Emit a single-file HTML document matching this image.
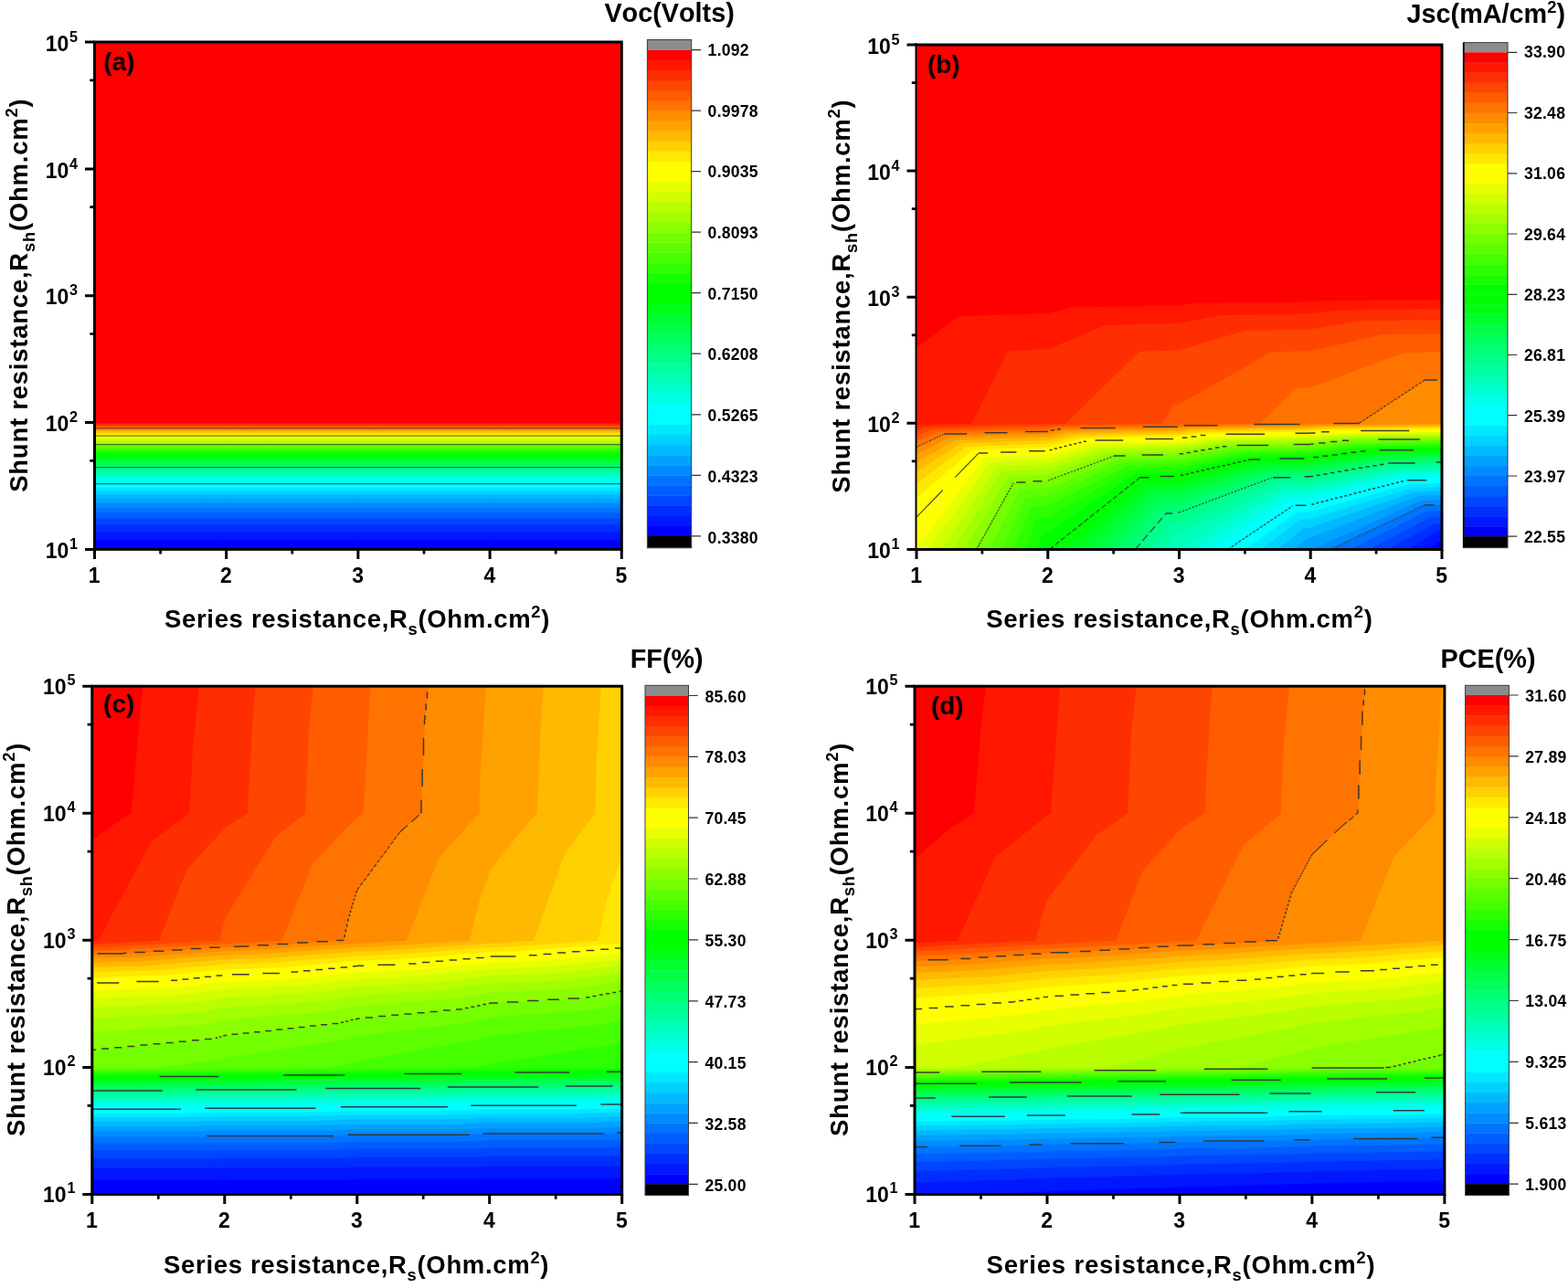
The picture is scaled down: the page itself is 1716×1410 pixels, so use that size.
<!DOCTYPE html>
<html lang="en">
<head>
<meta charset="utf-8">
<title>Effect of series and shunt resistance on Voc, Jsc, FF and PCE</title>
<style>
html,body{margin:0;padding:0;background:#fff;width:1716px;height:1410px;}
body{overflow:hidden;}
svg{display:block;filter:blur(0.45px);}
text{font-kerning:none;}
</style>
</head>
<body>
<svg width="1716" height="1410" viewBox="0 0 1716 1410" font-family="'Liberation Sans',sans-serif" font-weight="bold" fill="#000">
<rect width="1716" height="1410" fill="#fff"/>
<g id="panel-a">
<g stroke-width="0.7" stroke-linejoin="round">
<path fill="#0000ff" stroke="#0000ff" d="M103.5 601.4L247.7 601.4L103.5 462.5ZM247.7 601.4L247.7 462.5L103.5 462.5ZM247.7 601.4L391.9 601.4L247.7 462.5ZM391.9 601.4L391.9 462.5L247.7 462.5ZM391.9 601.4L536.1 601.4L391.9 462.5ZM536.1 601.4L536.1 462.5L391.9 462.5ZM536.1 601.4L680.3 601.4L536.1 462.5ZM680.3 601.4L680.3 462.5L536.1 462.5Z"/>
<path fill="#0017ff" stroke="#0017ff" d="M244.6 590.9L103.5 462.5L103.5 590.9ZM247.7 590.9L247.7 462.5L103.5 462.5L244.6 590.9ZM388.8 590.9L247.7 462.5L247.7 590.9ZM391.9 590.9L391.9 462.5L247.7 462.5L388.8 590.9ZM533 590.9L391.9 462.5L391.9 590.9ZM536.1 590.9L536.1 462.5L391.9 462.5L533 590.9ZM677.2 590.9L536.1 462.5L536.1 590.9ZM680.3 590.9L680.3 462.5L536.1 462.5L677.2 590.9Z"/>
<path fill="#002eff" stroke="#002eff" d="M241.6 581.9L103.5 462.5L103.5 581.9ZM247.7 581.9L247.7 462.5L103.5 462.5L241.6 581.9ZM385.8 581.9L247.7 462.5L247.7 581.9ZM391.9 581.9L391.9 462.5L247.7 462.5L385.8 581.9ZM530 581.9L391.9 462.5L391.9 581.9ZM536.1 581.9L536.1 462.5L391.9 462.5L530 581.9ZM674.2 581.9L536.1 462.5L536.1 581.9ZM680.3 581.9L680.3 462.5L536.1 462.5L674.2 581.9Z"/>
<path fill="#0046ff" stroke="#0046ff" d="M238.5 574.1L103.5 462.5L103.5 574.1ZM247.7 574.1L247.7 462.5L103.5 462.5L238.5 574.1ZM382.7 574.1L247.7 462.5L247.7 574.1ZM391.9 574.1L391.9 462.5L247.7 462.5L382.7 574.1ZM526.9 574.1L391.9 462.5L391.9 574.1ZM536.1 574.1L536.1 462.5L391.9 462.5L526.9 574.1ZM671.1 574.1L536.1 462.5L536.1 574.1ZM680.3 574.1L680.3 462.5L536.1 462.5L671.1 574.1Z"/>
<path fill="#005dff" stroke="#005dff" d="M235.5 567.2L103.5 462.5L103.5 567.2ZM247.7 567.2L247.7 462.5L103.5 462.5L235.5 567.2ZM379.7 567.2L247.7 462.5L247.7 567.2ZM391.9 567.2L391.9 462.5L247.7 462.5L379.7 567.2ZM523.9 567.2L391.9 462.5L391.9 567.2ZM536.1 567.2L536.1 462.5L391.9 462.5L523.9 567.2ZM668.1 567.2L536.1 462.5L536.1 567.2ZM680.3 567.2L680.3 462.5L536.1 462.5L668.1 567.2Z"/>
<path fill="#0074ff" stroke="#0074ff" d="M232.4 561L103.5 462.5L103.5 561ZM247.7 561L247.7 462.5L103.5 462.5L232.4 561ZM376.6 561L247.7 462.5L247.7 561ZM391.9 561L391.9 462.5L247.7 462.5L376.6 561ZM520.8 561L391.9 462.5L391.9 561ZM536.1 561L536.1 462.5L391.9 462.5L520.8 561ZM665 561L536.1 462.5L536.1 561ZM680.3 561L680.3 462.5L536.1 462.5L665 561Z"/>
<path fill="#008bff" stroke="#008bff" d="M229.4 555.4L103.5 462.5L103.5 555.4ZM247.7 555.4L247.7 462.5L103.5 462.5L229.4 555.4ZM373.6 555.4L247.7 462.5L247.7 555.4ZM391.9 555.4L391.9 462.5L247.7 462.5L373.6 555.4ZM517.8 555.4L391.9 462.5L391.9 555.4ZM536.1 555.4L536.1 462.5L391.9 462.5L517.8 555.4ZM662 555.4L536.1 462.5L536.1 555.4ZM680.3 555.4L680.3 462.5L536.1 462.5L662 555.4Z"/>
<path fill="#00a2ff" stroke="#00a2ff" d="M226.3 550.3L103.5 462.5L103.5 550.3ZM247.7 550.3L247.7 462.5L103.5 462.5L226.3 550.3ZM370.5 550.3L247.7 462.5L247.7 550.3ZM391.9 550.3L391.9 462.5L247.7 462.5L370.5 550.3ZM514.7 550.3L391.9 462.5L391.9 550.3ZM536.1 550.3L536.1 462.5L391.9 462.5L514.7 550.3ZM658.9 550.3L536.1 462.5L536.1 550.3ZM680.3 550.3L680.3 462.5L536.1 462.5L658.9 550.3Z"/>
<path fill="#00b9ff" stroke="#00b9ff" d="M223.3 545.6L103.5 462.5L103.5 545.6ZM247.7 545.6L247.7 462.5L103.5 462.5L223.3 545.6ZM367.5 545.6L247.7 462.5L247.7 545.6ZM391.9 545.6L391.9 462.5L247.7 462.5L367.5 545.6ZM511.7 545.6L391.9 462.5L391.9 545.6ZM536.1 545.6L536.1 462.5L391.9 462.5L511.7 545.6ZM655.9 545.6L536.1 462.5L536.1 545.6ZM680.3 545.6L680.3 462.5L536.1 462.5L655.9 545.6Z"/>
<path fill="#00d1ff" stroke="#00d1ff" d="M220.2 541.2L103.5 462.5L103.5 541.2ZM247.7 541.2L247.7 462.5L103.5 462.5L220.2 541.2ZM364.4 541.2L247.7 462.5L247.7 541.2ZM391.9 541.2L391.9 462.5L247.7 462.5L364.4 541.2ZM508.6 541.2L391.9 462.5L391.9 541.2ZM536.1 541.2L536.1 462.5L391.9 462.5L508.6 541.2ZM652.8 541.2L536.1 462.5L536.1 541.2ZM680.3 541.2L680.3 462.5L536.1 462.5L652.8 541.2Z"/>
<path fill="#00e8ff" stroke="#00e8ff" d="M217.2 537.1L103.5 462.5L103.5 537.1ZM247.7 537.1L247.7 462.5L103.5 462.5L217.2 537.1ZM361.4 537.1L247.7 462.5L247.7 537.1ZM391.9 537.1L391.9 462.5L247.7 462.5L361.4 537.1ZM505.6 537.1L391.9 462.5L391.9 537.1ZM536.1 537.1L536.1 462.5L391.9 462.5L505.6 537.1ZM649.8 537.1L536.1 462.5L536.1 537.1ZM680.3 537.1L680.3 462.5L536.1 462.5L649.8 537.1Z"/>
<path fill="#00ffff" stroke="#00ffff" d="M214.1 533.3L103.5 462.5L103.5 533.3ZM247.7 533.3L247.7 462.5L103.5 462.5L214.1 533.3ZM358.3 533.3L247.7 462.5L247.7 533.3ZM391.9 533.3L391.9 462.5L247.7 462.5L358.3 533.3ZM502.5 533.3L391.9 462.5L391.9 533.3ZM536.1 533.3L536.1 462.5L391.9 462.5L502.5 533.3ZM646.7 533.3L536.1 462.5L536.1 533.3ZM680.3 533.3L680.3 462.5L536.1 462.5L646.7 533.3Z"/>
<path fill="#00ffff" stroke="#00ffff" d="M211.1 529.7L103.5 462.5L103.5 529.7ZM247.7 529.7L247.7 462.5L103.5 462.5L211.1 529.7ZM355.3 529.7L247.7 462.5L247.7 529.7ZM391.9 529.7L391.9 462.5L247.7 462.5L355.3 529.7ZM499.5 529.7L391.9 462.5L391.9 529.7ZM536.1 529.7L536.1 462.5L391.9 462.5L499.5 529.7ZM643.7 529.7L536.1 462.5L536.1 529.7ZM680.3 529.7L680.3 462.5L536.1 462.5L643.7 529.7Z"/>
<path fill="#00ffe8" stroke="#00ffe8" d="M208 526.3L103.5 462.5L103.5 526.3ZM247.7 526.3L247.7 462.5L103.5 462.5L208 526.3ZM352.2 526.3L247.7 462.5L247.7 526.3ZM391.9 526.3L391.9 462.5L247.7 462.5L352.2 526.3ZM496.4 526.3L391.9 462.5L391.9 526.3ZM536.1 526.3L536.1 462.5L391.9 462.5L496.4 526.3ZM640.6 526.3L536.1 462.5L536.1 526.3ZM680.3 526.3L680.3 462.5L536.1 462.5L640.6 526.3Z"/>
<path fill="#00ffd1" stroke="#00ffd1" d="M205 523L103.5 462.5L103.5 523ZM247.7 523L247.7 462.5L103.5 462.5L205 523ZM349.2 523L247.7 462.5L247.7 523ZM391.9 523L391.9 462.5L247.7 462.5L349.2 523ZM493.4 523L391.9 462.5L391.9 523ZM536.1 523L536.1 462.5L391.9 462.5L493.4 523ZM637.6 523L536.1 462.5L536.1 523ZM680.3 523L680.3 462.5L536.1 462.5L637.6 523Z"/>
<path fill="#00ffb9" stroke="#00ffb9" d="M201.9 520L103.5 462.5L103.5 520ZM247.7 520L247.7 462.5L103.5 462.5L201.9 520ZM346.1 520L247.7 462.5L247.7 520ZM391.9 520L391.9 462.5L247.7 462.5L346.1 520ZM490.3 520L391.9 462.5L391.9 520ZM536.1 520L536.1 462.5L391.9 462.5L490.3 520ZM634.5 520L536.1 462.5L536.1 520ZM680.3 520L680.3 462.5L536.1 462.5L634.5 520Z"/>
<path fill="#00ffa2" stroke="#00ffa2" d="M198.9 517.1L103.5 462.5L103.5 517.1ZM247.7 517.1L247.7 462.5L103.5 462.5L198.9 517.1ZM343.1 517.1L247.7 462.5L247.7 517.1ZM391.9 517.1L391.9 462.5L247.7 462.5L343.1 517.1ZM487.3 517.1L391.9 462.5L391.9 517.1ZM536.1 517.1L536.1 462.5L391.9 462.5L487.3 517.1ZM631.5 517.1L536.1 462.5L536.1 517.1ZM680.3 517.1L680.3 462.5L536.1 462.5L631.5 517.1Z"/>
<path fill="#00ff8b" stroke="#00ff8b" d="M195.8 514.3L103.5 462.5L103.5 514.3ZM247.7 514.3L247.7 462.5L103.5 462.5L195.8 514.3ZM340 514.3L247.7 462.5L247.7 514.3ZM391.9 514.3L391.9 462.5L247.7 462.5L340 514.3ZM484.2 514.3L391.9 462.5L391.9 514.3ZM536.1 514.3L536.1 462.5L391.9 462.5L484.2 514.3ZM628.4 514.3L536.1 462.5L536.1 514.3ZM680.3 514.3L680.3 462.5L536.1 462.5L628.4 514.3Z"/>
<path fill="#00ff74" stroke="#00ff74" d="M192.8 511.7L103.5 462.5L103.5 511.7ZM247.7 511.7L247.7 462.5L103.5 462.5L192.8 511.7ZM337 511.7L247.7 462.5L247.7 511.7ZM391.9 511.7L391.9 462.5L247.7 462.5L337 511.7ZM481.2 511.7L391.9 462.5L391.9 511.7ZM536.1 511.7L536.1 462.5L391.9 462.5L481.2 511.7ZM625.4 511.7L536.1 462.5L536.1 511.7ZM680.3 511.7L680.3 462.5L536.1 462.5L625.4 511.7Z"/>
<path fill="#00ff5d" stroke="#00ff5d" d="M189.7 509.1L103.5 462.5L103.5 509.1ZM247.7 509.1L247.7 462.5L103.5 462.5L189.7 509.1ZM333.9 509.1L247.7 462.5L247.7 509.1ZM391.9 509.1L391.9 462.5L247.7 462.5L333.9 509.1ZM478.1 509.1L391.9 462.5L391.9 509.1ZM536.1 509.1L536.1 462.5L391.9 462.5L478.1 509.1ZM622.3 509.1L536.1 462.5L536.1 509.1ZM680.3 509.1L680.3 462.5L536.1 462.5L622.3 509.1Z"/>
<path fill="#00ff46" stroke="#00ff46" d="M186.6 506.7L103.5 462.5L103.5 506.7ZM247.7 506.7L247.7 462.5L103.5 462.5L186.6 506.7ZM330.8 506.7L247.7 462.5L247.7 506.7ZM391.9 506.7L391.9 462.5L247.7 462.5L330.8 506.7ZM475 506.7L391.9 462.5L391.9 506.7ZM536.1 506.7L536.1 462.5L391.9 462.5L475 506.7ZM619.2 506.7L536.1 462.5L536.1 506.7ZM680.3 506.7L680.3 462.5L536.1 462.5L619.2 506.7Z"/>
<path fill="#00ff2e" stroke="#00ff2e" d="M183.6 504.3L103.5 462.5L103.5 504.3ZM247.7 504.3L247.7 462.5L103.5 462.5L183.6 504.3ZM327.8 504.3L247.7 462.5L247.7 504.3ZM391.9 504.3L391.9 462.5L247.7 462.5L327.8 504.3ZM472 504.3L391.9 462.5L391.9 504.3ZM536.1 504.3L536.1 462.5L391.9 462.5L472 504.3ZM616.2 504.3L536.1 462.5L536.1 504.3ZM680.3 504.3L680.3 462.5L536.1 462.5L616.2 504.3Z"/>
<path fill="#00ff17" stroke="#00ff17" d="M180.5 502.1L103.5 462.5L103.5 502.1ZM247.7 502.1L247.7 462.5L103.5 462.5L180.5 502.1ZM324.7 502.1L247.7 462.5L247.7 502.1ZM391.9 502.1L391.9 462.5L247.7 462.5L324.7 502.1ZM468.9 502.1L391.9 462.5L391.9 502.1ZM536.1 502.1L536.1 462.5L391.9 462.5L468.9 502.1ZM613.1 502.1L536.1 462.5L536.1 502.1ZM680.3 502.1L680.3 462.5L536.1 462.5L613.1 502.1Z"/>
<path fill="#00ff00" stroke="#00ff00" d="M177.5 499.9L103.5 462.5L103.5 499.9ZM247.7 499.9L247.7 462.5L103.5 462.5L177.5 499.9ZM321.7 499.9L247.7 462.5L247.7 499.9ZM391.9 499.9L391.9 462.5L247.7 462.5L321.7 499.9ZM465.9 499.9L391.9 462.5L391.9 499.9ZM536.1 499.9L536.1 462.5L391.9 462.5L465.9 499.9ZM610.1 499.9L536.1 462.5L536.1 499.9ZM680.3 499.9L680.3 462.5L536.1 462.5L610.1 499.9Z"/>
<path fill="#00ff00" stroke="#00ff00" d="M174.4 497.8L103.5 462.5L103.5 497.8ZM247.7 497.8L247.7 462.5L103.5 462.5L174.4 497.8ZM318.6 497.8L247.7 462.5L247.7 497.8ZM391.9 497.8L391.9 462.5L247.7 462.5L318.6 497.8ZM462.8 497.8L391.9 462.5L391.9 497.8ZM536.1 497.8L536.1 462.5L391.9 462.5L462.8 497.8ZM607 497.8L536.1 462.5L536.1 497.8ZM680.3 497.8L680.3 462.5L536.1 462.5L607 497.8Z"/>
<path fill="#17ff00" stroke="#17ff00" d="M171.4 495.8L103.5 462.5L103.5 495.8ZM247.7 495.8L247.7 462.5L103.5 462.5L171.4 495.8ZM315.6 495.8L247.7 462.5L247.7 495.8ZM391.9 495.8L391.9 462.5L247.7 462.5L315.6 495.8ZM459.8 495.8L391.9 462.5L391.9 495.8ZM536.1 495.8L536.1 462.5L391.9 462.5L459.8 495.8ZM604 495.8L536.1 462.5L536.1 495.8ZM680.3 495.8L680.3 462.5L536.1 462.5L604 495.8Z"/>
<path fill="#2eff00" stroke="#2eff00" d="M168.3 493.8L103.5 462.5L103.5 493.8ZM247.7 493.8L247.7 462.5L103.5 462.5L168.3 493.8ZM312.5 493.8L247.7 462.5L247.7 493.8ZM391.9 493.8L391.9 462.5L247.7 462.5L312.5 493.8ZM456.7 493.8L391.9 462.5L391.9 493.8ZM536.1 493.8L536.1 462.5L391.9 462.5L456.7 493.8ZM600.9 493.8L536.1 462.5L536.1 493.8ZM680.3 493.8L680.3 462.5L536.1 462.5L600.9 493.8Z"/>
<path fill="#46ff00" stroke="#46ff00" d="M165.3 491.9L103.5 462.5L103.5 491.9ZM247.7 491.9L247.7 462.5L103.5 462.5L165.3 491.9ZM309.5 491.9L247.7 462.5L247.7 491.9ZM391.9 491.9L391.9 462.5L247.7 462.5L309.5 491.9ZM453.7 491.9L391.9 462.5L391.9 491.9ZM536.1 491.9L536.1 462.5L391.9 462.5L453.7 491.9ZM597.9 491.9L536.1 462.5L536.1 491.9ZM680.3 491.9L680.3 462.5L536.1 462.5L597.9 491.9Z"/>
<path fill="#5dff00" stroke="#5dff00" d="M162.2 490.1L103.5 462.5L103.5 490.1ZM247.7 490.1L247.7 462.5L103.5 462.5L162.2 490.1ZM306.4 490.1L247.7 462.5L247.7 490.1ZM391.9 490.1L391.9 462.5L247.7 462.5L306.4 490.1ZM450.6 490.1L391.9 462.5L391.9 490.1ZM536.1 490.1L536.1 462.5L391.9 462.5L450.6 490.1ZM594.8 490.1L536.1 462.5L536.1 490.1ZM680.3 490.1L680.3 462.5L536.1 462.5L594.8 490.1Z"/>
<path fill="#74ff00" stroke="#74ff00" d="M159.2 488.3L103.5 462.5L103.5 488.3ZM247.7 488.3L247.7 462.5L103.5 462.5L159.2 488.3ZM303.4 488.3L247.7 462.5L247.7 488.3ZM391.9 488.3L391.9 462.5L247.7 462.5L303.4 488.3ZM447.6 488.3L391.9 462.5L391.9 488.3ZM536.1 488.3L536.1 462.5L391.9 462.5L447.6 488.3ZM591.8 488.3L536.1 462.5L536.1 488.3ZM680.3 488.3L680.3 462.5L536.1 462.5L591.8 488.3Z"/>
<path fill="#8bff00" stroke="#8bff00" d="M156.1 486.6L103.5 462.5L103.5 486.6ZM247.7 486.6L247.7 462.5L103.5 462.5L156.1 486.6ZM300.3 486.6L247.7 462.5L247.7 486.6ZM391.9 486.6L391.9 462.5L247.7 462.5L300.3 486.6ZM444.5 486.6L391.9 462.5L391.9 486.6ZM536.1 486.6L536.1 462.5L391.9 462.5L444.5 486.6ZM588.7 486.6L536.1 462.5L536.1 486.6ZM680.3 486.6L680.3 462.5L536.1 462.5L588.7 486.6Z"/>
<path fill="#a2ff00" stroke="#a2ff00" d="M153.1 484.9L103.5 462.5L103.5 484.9ZM247.7 484.9L247.7 462.5L103.5 462.5L153.1 484.9ZM297.3 484.9L247.7 462.5L247.7 484.9ZM391.9 484.9L391.9 462.5L247.7 462.5L297.3 484.9ZM441.5 484.9L391.9 462.5L391.9 484.9ZM536.1 484.9L536.1 462.5L391.9 462.5L441.5 484.9ZM585.7 484.9L536.1 462.5L536.1 484.9ZM680.3 484.9L680.3 462.5L536.1 462.5L585.7 484.9Z"/>
<path fill="#b9ff00" stroke="#b9ff00" d="M150 483.2L103.5 462.5L103.5 483.2ZM247.7 483.2L247.7 462.5L103.5 462.5L150 483.2ZM294.2 483.2L247.7 462.5L247.7 483.2ZM391.9 483.2L391.9 462.5L247.7 462.5L294.2 483.2ZM438.4 483.2L391.9 462.5L391.9 483.2ZM536.1 483.2L536.1 462.5L391.9 462.5L438.4 483.2ZM582.6 483.2L536.1 462.5L536.1 483.2ZM680.3 483.2L680.3 462.5L536.1 462.5L582.6 483.2Z"/>
<path fill="#d1ff00" stroke="#d1ff00" d="M147 481.6L103.5 462.5L103.5 481.6ZM247.7 481.6L247.7 462.5L103.5 462.5L147 481.6ZM291.2 481.6L247.7 462.5L247.7 481.6ZM391.9 481.6L391.9 462.5L247.7 462.5L291.2 481.6ZM435.4 481.6L391.9 462.5L391.9 481.6ZM536.1 481.6L536.1 462.5L391.9 462.5L435.4 481.6ZM579.6 481.6L536.1 462.5L536.1 481.6ZM680.3 481.6L680.3 462.5L536.1 462.5L579.6 481.6Z"/>
<path fill="#e8ff00" stroke="#e8ff00" d="M143.9 480.1L103.5 462.5L103.5 480.1ZM247.7 480.1L247.7 462.5L103.5 462.5L143.9 480.1ZM288.1 480.1L247.7 462.5L247.7 480.1ZM391.9 480.1L391.9 462.5L247.7 462.5L288.1 480.1ZM432.3 480.1L391.9 462.5L391.9 480.1ZM536.1 480.1L536.1 462.5L391.9 462.5L432.3 480.1ZM576.5 480.1L536.1 462.5L536.1 480.1ZM680.3 480.1L680.3 462.5L536.1 462.5L576.5 480.1Z"/>
<path fill="#ffff00" stroke="#ffff00" d="M140.9 478.6L103.5 462.5L103.5 478.6ZM247.7 478.6L247.7 462.5L103.5 462.5L140.9 478.6ZM285.1 478.6L247.7 462.5L247.7 478.6ZM391.9 478.6L391.9 462.5L247.7 462.5L285.1 478.6ZM429.3 478.6L391.9 462.5L391.9 478.6ZM536.1 478.6L536.1 462.5L391.9 462.5L429.3 478.6ZM573.5 478.6L536.1 462.5L536.1 478.6ZM680.3 478.6L680.3 462.5L536.1 462.5L573.5 478.6Z"/>
<path fill="#ffff00" stroke="#ffff00" d="M137.8 477.1L103.5 462.5L103.5 477.1ZM247.7 477.1L247.7 462.5L103.5 462.5L137.8 477.1ZM282 477.1L247.7 462.5L247.7 477.1ZM391.9 477.1L391.9 462.5L247.7 462.5L282 477.1ZM426.2 477.1L391.9 462.5L391.9 477.1ZM536.1 477.1L536.1 462.5L391.9 462.5L426.2 477.1ZM570.4 477.1L536.1 462.5L536.1 477.1ZM680.3 477.1L680.3 462.5L536.1 462.5L570.4 477.1Z"/>
<path fill="#ffe800" stroke="#ffe800" d="M134.7 475.6L103.5 462.5L103.5 475.6ZM247.7 475.6L247.7 462.5L103.5 462.5L134.7 475.6ZM278.9 475.6L247.7 462.5L247.7 475.6ZM391.9 475.6L391.9 462.5L247.7 462.5L278.9 475.6ZM423.1 475.6L391.9 462.5L391.9 475.6ZM536.1 475.6L536.1 462.5L391.9 462.5L423.1 475.6ZM567.3 475.6L536.1 462.5L536.1 475.6ZM680.3 475.6L680.3 462.5L536.1 462.5L567.3 475.6Z"/>
<path fill="#ffd100" stroke="#ffd100" d="M131.7 474.2L103.5 462.5L103.5 474.2ZM247.7 474.2L247.7 462.5L103.5 462.5L131.7 474.2ZM275.9 474.2L247.7 462.5L247.7 474.2ZM391.9 474.2L391.9 462.5L247.7 462.5L275.9 474.2ZM420.1 474.2L391.9 462.5L391.9 474.2ZM536.1 474.2L536.1 462.5L391.9 462.5L420.1 474.2ZM564.3 474.2L536.1 462.5L536.1 474.2ZM680.3 474.2L680.3 462.5L536.1 462.5L564.3 474.2Z"/>
<path fill="#ffb900" stroke="#ffb900" d="M128.6 472.8L103.5 462.5L103.5 472.8ZM247.7 472.8L247.7 462.5L103.5 462.5L128.6 472.8ZM272.8 472.8L247.7 462.5L247.7 472.8ZM391.9 472.8L391.9 462.5L247.7 462.5L272.8 472.8ZM417 472.8L391.9 462.5L391.9 472.8ZM536.1 472.8L536.1 462.5L391.9 462.5L417 472.8ZM561.2 472.8L536.1 462.5L536.1 472.8ZM680.3 472.8L680.3 462.5L536.1 462.5L561.2 472.8Z"/>
<path fill="#ffa200" stroke="#ffa200" d="M125.6 471.5L103.5 462.5L103.5 471.5ZM247.7 471.5L247.7 462.5L103.5 462.5L125.6 471.5ZM269.8 471.5L247.7 462.5L247.7 471.5ZM391.9 471.5L391.9 462.5L247.7 462.5L269.8 471.5ZM414 471.5L391.9 462.5L391.9 471.5ZM536.1 471.5L536.1 462.5L391.9 462.5L414 471.5ZM558.2 471.5L536.1 462.5L536.1 471.5ZM680.3 471.5L680.3 462.5L536.1 462.5L558.2 471.5Z"/>
<path fill="#ff8b00" stroke="#ff8b00" d="M122.5 470.2L103.5 462.5L103.5 470.2ZM247.7 470.2L247.7 462.5L103.5 462.5L122.5 470.2ZM266.7 470.2L247.7 462.5L247.7 470.2ZM391.9 470.2L391.9 462.5L247.7 462.5L266.7 470.2ZM410.9 470.2L391.9 462.5L391.9 470.2ZM536.1 470.2L536.1 462.5L391.9 462.5L410.9 470.2ZM555.1 470.2L536.1 462.5L536.1 470.2ZM680.3 470.2L680.3 462.5L536.1 462.5L555.1 470.2Z"/>
<path fill="#ff7400" stroke="#ff7400" d="M119.5 468.9L103.5 462.5L103.5 468.9ZM247.7 468.9L247.7 462.5L103.5 462.5L119.5 468.9ZM263.7 468.9L247.7 462.5L247.7 468.9ZM391.9 468.9L391.9 462.5L247.7 462.5L263.7 468.9ZM407.9 468.9L391.9 462.5L391.9 468.9ZM536.1 468.9L536.1 462.5L391.9 462.5L407.9 468.9ZM552.1 468.9L536.1 462.5L536.1 468.9ZM680.3 468.9L680.3 462.5L536.1 462.5L552.1 468.9Z"/>
<path fill="#ff5d00" stroke="#ff5d00" d="M116.4 467.6L103.5 462.5L103.5 467.6ZM247.7 467.6L247.7 462.5L103.5 462.5L116.4 467.6ZM260.6 467.6L247.7 462.5L247.7 467.6ZM391.9 467.6L391.9 462.5L247.7 462.5L260.6 467.6ZM404.8 467.6L391.9 462.5L391.9 467.6ZM536.1 467.6L536.1 462.5L391.9 462.5L404.8 467.6ZM549 467.6L536.1 462.5L536.1 467.6ZM680.3 467.6L680.3 462.5L536.1 462.5L549 467.6Z"/>
<path fill="#ff4600" stroke="#ff4600" d="M113.4 466.4L103.5 462.5L103.5 466.4ZM247.7 466.4L247.7 462.5L103.5 462.5L113.4 466.4ZM257.6 466.4L247.7 462.5L247.7 466.4ZM391.9 466.4L391.9 462.5L247.7 462.5L257.6 466.4ZM401.8 466.4L391.9 462.5L391.9 466.4ZM536.1 466.4L536.1 462.5L391.9 462.5L401.8 466.4ZM546 466.4L536.1 462.5L536.1 466.4ZM680.3 466.4L680.3 462.5L536.1 462.5L546 466.4Z"/>
<path fill="#ff2e00" stroke="#ff2e00" d="M110.3 465.2L103.5 462.5L103.5 465.2ZM247.7 465.2L247.7 462.5L103.5 462.5L110.3 465.2ZM254.5 465.2L247.7 462.5L247.7 465.2ZM391.9 465.2L391.9 462.5L247.7 462.5L254.5 465.2ZM398.7 465.2L391.9 462.5L391.9 465.2ZM536.1 465.2L536.1 462.5L391.9 462.5L398.7 465.2ZM542.9 465.2L536.1 462.5L536.1 465.2ZM680.3 465.2L680.3 462.5L536.1 462.5L542.9 465.2Z"/>
<path fill="#ff1700" stroke="#ff1700" d="M107.3 464L103.5 462.5L103.5 464ZM247.7 464L247.7 462.5L103.5 462.5L107.3 464ZM251.5 464L247.7 462.5L247.7 464ZM391.9 464L391.9 462.5L247.7 462.5L251.5 464ZM395.7 464L391.9 462.5L391.9 464ZM536.1 464L536.1 462.5L391.9 462.5L395.7 464ZM539.9 464L536.1 462.5L536.1 464ZM680.3 464L680.3 462.5L536.1 462.5L539.9 464Z"/>
<path fill="#ff0000" stroke="#ff0000" d="M104.2 462.8L103.5 462.5L103.5 462.8ZM247.7 462.8L247.7 462.5L103.5 462.5L104.2 462.8ZM248.4 462.8L247.7 462.5L247.7 462.8ZM391.9 462.8L391.9 462.5L247.7 462.5L248.4 462.8ZM392.6 462.8L391.9 462.5L391.9 462.8ZM536.1 462.8L536.1 462.5L391.9 462.5L392.6 462.8ZM536.8 462.8L536.1 462.5L536.1 462.8ZM680.3 462.8L680.3 462.5L536.1 462.5L536.8 462.8ZM103.5 462.5L247.7 462.5L103.5 323.7ZM247.7 462.5L247.7 323.7L103.5 323.7ZM247.7 462.5L391.9 462.5L247.7 323.7ZM391.9 462.5L391.9 323.7L247.7 323.7ZM391.9 462.5L536.1 462.5L391.9 323.7ZM536.1 462.5L536.1 323.7L391.9 323.7ZM536.1 462.5L680.3 462.5L536.1 323.7ZM680.3 462.5L680.3 323.7L536.1 323.7ZM103.5 323.7L247.7 323.7L103.5 184.9ZM247.7 323.7L247.7 184.9L103.5 184.9ZM247.7 323.7L391.9 323.7L247.7 184.9ZM391.9 323.7L391.9 184.9L247.7 184.9ZM391.9 323.7L536.1 323.7L391.9 184.9ZM536.1 323.7L536.1 184.9L391.9 184.9ZM536.1 323.7L680.3 323.7L536.1 184.9ZM680.3 323.7L680.3 184.9L536.1 184.9ZM103.5 184.9L247.7 184.9L103.5 46ZM247.7 184.9L247.7 46L103.5 46ZM247.7 184.9L391.9 184.9L247.7 46ZM391.9 184.9L391.9 46L247.7 46ZM391.9 184.9L536.1 184.9L391.9 46ZM536.1 184.9L536.1 46L391.9 46ZM536.1 184.9L680.3 184.9L536.1 46ZM680.3 184.9L680.3 46L536.1 46Z"/>
</g>
<g fill="none" stroke="#363636" stroke-width="1.5" stroke-opacity="0.97">
<path stroke-width="1.2" stroke-opacity="0.72" d="M103.5 529.7L211.1 529.7L247.7 529.7L355.3 529.7L391.9 529.7L499.5 529.7L536.1 529.7L643.7 529.7L680.3 529.7"/>
<path stroke-width="1.2" stroke-opacity="0.72" d="M103.5 511.7L192.8 511.7L247.7 511.7L337 511.7L391.9 511.7L481.2 511.7L536.1 511.7L625.4 511.7L680.3 511.7"/>
<path stroke-width="1.2" stroke-opacity="0.72" d="M103.5 486.6L156.1 486.6L247.7 486.6L300.3 486.6L391.9 486.6L444.5 486.6L536.1 486.6L588.7 486.6L680.3 486.6"/>
<path stroke-width="1.2" stroke-opacity="0.72" d="M103.5 477.1L137.8 477.1L247.7 477.1L282 477.1L391.9 477.1L426.2 477.1L536.1 477.1L570.4 477.1L680.3 477.1"/>
<path stroke-width="1.2" stroke-opacity="0.72" d="M103.5 468.9L119.5 468.9L247.7 468.9L263.7 468.9L391.9 468.9L407.9 468.9L536.1 468.9L552.1 468.9L680.3 468.9"/>
</g>
<g stroke="#000" stroke-width="3" fill="none" stroke-linecap="butt"><rect x="103.5" y="46" width="576.8" height="555.4"/><path d="M93 601.4H103.5M93 462.5H103.5M93 323.7H103.5M93 184.9H103.5M93 46H103.5M103.5 601.4V611.9M247.7 601.4V611.9M391.9 601.4V611.9M536.1 601.4V611.9M680.3 601.4V611.9"/><path stroke-width="2.7" d="M98.3 504.3H103.5M98.3 365.5H103.5M98.3 226.6H103.5M98.3 87.8H103.5M175.6 601.4V606.6M319.8 601.4V606.6M464 601.4V606.6M608.2 601.4V606.6"/></g>
<g><rect x="708.4" y="43.5" width="48.3" height="11.1" fill="#8c8c8c"/><rect x="708.4" y="575.71" width="48.3" height="11.49" fill="#0000ff"/><rect x="708.4" y="564.62" width="48.3" height="11.49" fill="#0017ff"/><rect x="708.4" y="553.54" width="48.3" height="11.49" fill="#002eff"/><rect x="708.4" y="542.45" width="48.3" height="11.49" fill="#0046ff"/><rect x="708.4" y="531.36" width="48.3" height="11.49" fill="#005dff"/><rect x="708.4" y="520.27" width="48.3" height="11.49" fill="#0074ff"/><rect x="708.4" y="509.19" width="48.3" height="11.49" fill="#008bff"/><rect x="708.4" y="498.10" width="48.3" height="11.49" fill="#00a2ff"/><rect x="708.4" y="487.01" width="48.3" height="11.49" fill="#00b9ff"/><rect x="708.4" y="475.92" width="48.3" height="11.49" fill="#00d1ff"/><rect x="708.4" y="464.84" width="48.3" height="11.49" fill="#00e8ff"/><rect x="708.4" y="453.75" width="48.3" height="11.49" fill="#00ffff"/><rect x="708.4" y="442.66" width="48.3" height="11.49" fill="#00ffff"/><rect x="708.4" y="431.57" width="48.3" height="11.49" fill="#00ffe8"/><rect x="708.4" y="420.49" width="48.3" height="11.49" fill="#00ffd1"/><rect x="708.4" y="409.40" width="48.3" height="11.49" fill="#00ffb9"/><rect x="708.4" y="398.31" width="48.3" height="11.49" fill="#00ffa2"/><rect x="708.4" y="387.22" width="48.3" height="11.49" fill="#00ff8b"/><rect x="708.4" y="376.14" width="48.3" height="11.49" fill="#00ff74"/><rect x="708.4" y="365.05" width="48.3" height="11.49" fill="#00ff5d"/><rect x="708.4" y="353.96" width="48.3" height="11.49" fill="#00ff46"/><rect x="708.4" y="342.88" width="48.3" height="11.49" fill="#00ff2e"/><rect x="708.4" y="331.79" width="48.3" height="11.49" fill="#00ff17"/><rect x="708.4" y="320.70" width="48.3" height="11.49" fill="#00ff00"/><rect x="708.4" y="309.61" width="48.3" height="11.49" fill="#00ff00"/><rect x="708.4" y="298.52" width="48.3" height="11.49" fill="#17ff00"/><rect x="708.4" y="287.44" width="48.3" height="11.49" fill="#2eff00"/><rect x="708.4" y="276.35" width="48.3" height="11.49" fill="#46ff00"/><rect x="708.4" y="265.26" width="48.3" height="11.49" fill="#5dff00"/><rect x="708.4" y="254.18" width="48.3" height="11.49" fill="#74ff00"/><rect x="708.4" y="243.09" width="48.3" height="11.49" fill="#8bff00"/><rect x="708.4" y="232.00" width="48.3" height="11.49" fill="#a2ff00"/><rect x="708.4" y="220.91" width="48.3" height="11.49" fill="#b9ff00"/><rect x="708.4" y="209.82" width="48.3" height="11.49" fill="#d1ff00"/><rect x="708.4" y="198.74" width="48.3" height="11.49" fill="#e8ff00"/><rect x="708.4" y="187.65" width="48.3" height="11.49" fill="#ffff00"/><rect x="708.4" y="176.56" width="48.3" height="11.49" fill="#ffff00"/><rect x="708.4" y="165.48" width="48.3" height="11.49" fill="#ffe800"/><rect x="708.4" y="154.39" width="48.3" height="11.49" fill="#ffd100"/><rect x="708.4" y="143.30" width="48.3" height="11.49" fill="#ffb900"/><rect x="708.4" y="132.21" width="48.3" height="11.49" fill="#ffa200"/><rect x="708.4" y="121.12" width="48.3" height="11.49" fill="#ff8b00"/><rect x="708.4" y="110.04" width="48.3" height="11.49" fill="#ff7400"/><rect x="708.4" y="98.95" width="48.3" height="11.49" fill="#ff5d00"/><rect x="708.4" y="87.86" width="48.3" height="11.49" fill="#ff4600"/><rect x="708.4" y="76.78" width="48.3" height="11.49" fill="#ff2e00"/><rect x="708.4" y="65.69" width="48.3" height="11.49" fill="#ff1700"/><rect x="708.4" y="54.60" width="48.3" height="11.49" fill="#ff0000"/><rect x="708.4" y="586.8" width="48.3" height="13" fill="#000"/><rect x="708.4" y="43.5" width="48.3" height="556.3" fill="none" stroke="#3c3c3c" stroke-width="1"/><path d="M756.7 54.6h10.3M756.7 121.1h10.3M756.7 187.6h10.3M756.7 254.2h10.3M756.7 320.7h10.3M756.7 387.2h10.3M756.7 453.8h10.3M756.7 520.3h10.3M756.7 586.8h10.3" stroke="#333" stroke-width="1.2" fill="none"/><text x="774.6" y="60.8" font-size="17.6" letter-spacing="0.25">1.092</text><text x="774.6" y="127.5" font-size="17.6" letter-spacing="0.25">0.9978</text><text x="774.6" y="194.3" font-size="17.6" letter-spacing="0.25">0.9035</text><text x="774.6" y="261" font-size="17.6" letter-spacing="0.25">0.8093</text><text x="774.6" y="327.7" font-size="17.6" letter-spacing="0.25">0.7150</text><text x="774.6" y="394.4" font-size="17.6" letter-spacing="0.25">0.6208</text><text x="774.6" y="461.1" font-size="17.6" letter-spacing="0.25">0.5265</text><text x="774.6" y="527.9" font-size="17.6" letter-spacing="0.25">0.4323</text><text x="774.6" y="594.6" font-size="17.6" letter-spacing="0.25">0.3380</text></g>
<g><text x="113.3" y="77.2" font-size="28">(a)</text><text x="103.2" y="637.8" font-size="23" text-anchor="middle">1</text><text x="247.4" y="637.8" font-size="23" text-anchor="middle">2</text><text x="391.6" y="637.8" font-size="23" text-anchor="middle">3</text><text x="535.8" y="637.8" font-size="23" text-anchor="middle">4</text><text x="680" y="637.8" font-size="23" text-anchor="middle">5</text><text x="85.1" y="611.1" font-size="23" text-anchor="end">10<tspan dy="-10" dx="0.8" font-size="16.2">1</tspan></text><text x="85.1" y="472.2" font-size="23" text-anchor="end">10<tspan dy="-10" dx="0.8" font-size="16.2">2</tspan></text><text x="85.1" y="333.4" font-size="23" text-anchor="end">10<tspan dy="-10" dx="0.8" font-size="16.2">3</tspan></text><text x="85.1" y="194.6" font-size="23" text-anchor="end">10<tspan dy="-10" dx="0.8" font-size="16.2">4</tspan></text><text x="85.1" y="55.7" font-size="23" text-anchor="end">10<tspan dy="-10" dx="0.8" font-size="16.2">5</tspan></text><text x="391" y="687.1" font-size="27.5" letter-spacing="0.67" text-anchor="middle">Series resistance,R<tspan dy="7.7" font-size="18.4">s</tspan><tspan dy="-7.7">(Ohm.cm</tspan><tspan dy="-11" font-size="18.4">2</tspan><tspan dy="11">)</tspan></text><text transform="translate(29.9 323.2) rotate(-90)" font-size="27.5" letter-spacing="0.76" text-anchor="middle">Shunt resistance,R<tspan dy="7.7" font-size="18.4">sh</tspan><tspan dy="-7.7">(Ohm.cm</tspan><tspan dy="-11" font-size="18.4">2</tspan><tspan dy="11">)</tspan></text><text x="732.6" y="23.5" font-size="28.8" text-anchor="middle">Voc(Volts)</text></g>
</g>
<g id="panel-b">
<g stroke-width="0.7" stroke-linejoin="round">
<path fill="#0000ff" stroke="#0000ff" d="M1434.2 601.4L1578 601.4L1434.2 463.3ZM1578 601.4L1578 463.3L1434.2 463.3Z"/>
<path fill="#0017ff" stroke="#0017ff" d="M1434.2 601.4L1561.4 601.4L1575.3 592.1L1434.2 463.3ZM1578 591.8L1578 463.3L1434.2 463.3L1575.3 592.1Z"/>
<path fill="#002eff" stroke="#002eff" d="M1434.2 601.4L1540.3 601.4L1571.9 582L1434.2 463.3ZM1578 581.5L1578 463.3L1434.2 463.3L1571.9 582Z"/>
<path fill="#0046ff" stroke="#0046ff" d="M1434.2 601.4L1519.3 601.4L1568.5 573.4L1434.2 463.3ZM1578 572.7L1578 463.3L1434.2 463.3L1568.5 573.4Z"/>
<path fill="#005dff" stroke="#005dff" d="M1434.2 601.4L1498.2 601.4L1565.1 565.9L1434.2 463.3ZM1578 565.1L1578 463.3L1434.2 463.3L1565.1 565.9Z"/>
<path fill="#0074ff" stroke="#0074ff" d="M1434.2 601.4L1477.2 601.4L1561.7 559.2L1434.2 463.3ZM1578 558.3L1578 463.3L1434.2 463.3L1561.7 559.2Z"/>
<path fill="#008bff" stroke="#008bff" d="M1434.2 601.4L1456.1 601.4L1558.3 553.2L1434.2 463.3ZM1578 552.2L1578 463.3L1434.2 463.3L1558.3 553.2Z"/>
<path fill="#00a2ff" stroke="#00a2ff" d="M1290.5 601.4L1434.2 601.4L1290.5 463.3ZM1434.2 601.4L1434.2 463.3L1290.5 463.3ZM1434.2 601.4L1435.1 601.4L1554.9 547.8L1434.2 463.3ZM1578 546.6L1578 463.3L1434.2 463.3L1554.9 547.8Z"/>
<path fill="#00b9ff" stroke="#00b9ff" d="M1290.5 601.4L1416.7 601.4L1430.5 588.7L1290.5 463.3ZM1434.2 588.3L1434.2 463.3L1290.5 463.3L1430.5 588.7ZM1551.5 542.8L1434.2 463.3L1434.2 588.3ZM1578 541.6L1578 463.3L1434.2 463.3L1551.5 542.8Z"/>
<path fill="#00d1ff" stroke="#00d1ff" d="M1290.5 601.4L1398.5 601.4L1426.6 577.9L1290.5 463.3ZM1434.2 577.2L1434.2 463.3L1290.5 463.3L1426.6 577.9ZM1548.1 538.1L1434.2 463.3L1434.2 577.2ZM1578 536.9L1578 463.3L1434.2 463.3L1548.1 538.1Z"/>
<path fill="#00e8ff" stroke="#00e8ff" d="M1290.5 601.4L1380.2 601.4L1422.7 568.7L1290.5 463.3ZM1434.2 567.8L1434.2 463.3L1290.5 463.3L1422.7 568.7ZM1544.7 533.9L1434.2 463.3L1434.2 567.8ZM1578 532.6L1578 463.3L1434.2 463.3L1544.7 533.9Z"/>
<path fill="#00ffff" stroke="#00ffff" d="M1290.5 601.4L1362 601.4L1418.8 560.8L1290.5 463.3ZM1434.2 559.7L1434.2 463.3L1290.5 463.3L1418.8 560.8ZM1541.3 529.9L1434.2 463.3L1434.2 559.7ZM1578 528.5L1578 463.3L1434.2 463.3L1541.3 529.9Z"/>
<path fill="#00ffff" stroke="#00ffff" d="M1290.5 601.4L1343.7 601.4L1414.9 553.7L1290.5 463.3ZM1434.2 552.5L1434.2 463.3L1290.5 463.3L1414.9 553.7ZM1537.9 526.1L1434.2 463.3L1434.2 552.5ZM1578 524.7L1578 463.3L1434.2 463.3L1537.9 526.1Z"/>
<path fill="#00ffe8" stroke="#00ffe8" d="M1290.5 601.4L1325.5 601.4L1411 547.4L1290.5 463.3ZM1434.2 546.1L1434.2 463.3L1290.5 463.3L1411 547.4ZM1534.5 522.6L1434.2 463.3L1434.2 546.1ZM1578 521.2L1578 463.3L1434.2 463.3L1534.5 522.6Z"/>
<path fill="#00ffd1" stroke="#00ffd1" d="M1146.8 601.4L1290.5 601.4L1146.8 463.3ZM1290.5 601.4L1290.5 463.3L1146.8 463.3ZM1290.5 601.4L1307.2 601.4L1407 541.8L1290.5 463.3ZM1434.2 540.3L1434.2 463.3L1290.5 463.3L1407 541.8ZM1531.1 519.2L1434.2 463.3L1434.2 540.3ZM1578 517.8L1578 463.3L1434.2 463.3L1531.1 519.2Z"/>
<path fill="#00ffb9" stroke="#00ffb9" d="M1146.8 601.4L1289.2 601.4L1290.1 599.9L1146.8 463.3ZM1290.5 599.8L1290.5 463.3L1146.8 463.3L1290.1 599.9ZM1403.1 536.6L1290.5 463.3L1290.5 599.8ZM1434.2 535.1L1434.2 463.3L1290.5 463.3L1403.1 536.6ZM1527.7 516.1L1434.2 463.3L1434.2 535.1ZM1578 514.6L1578 463.3L1434.2 463.3L1527.7 516.1Z"/>
<path fill="#00ffa2" stroke="#00ffa2" d="M1146.8 601.4L1273.5 601.4L1285.4 584.6L1146.8 463.3ZM1290.5 584L1290.5 463.3L1146.8 463.3L1285.4 584.6ZM1399.2 531.8L1290.5 463.3L1290.5 584ZM1434.2 530.2L1434.2 463.3L1290.5 463.3L1399.2 531.8ZM1524.3 513.1L1434.2 463.3L1434.2 530.2ZM1578 511.6L1578 463.3L1434.2 463.3L1524.3 513.1Z"/>
<path fill="#00ff8b" stroke="#00ff8b" d="M1146.8 601.4L1257.9 601.4L1280.6 572.5L1146.8 463.3ZM1290.5 571.4L1290.5 463.3L1146.8 463.3L1280.6 572.5ZM1395.3 527.4L1290.5 463.3L1290.5 571.4ZM1434.2 525.8L1434.2 463.3L1290.5 463.3L1395.3 527.4ZM1520.9 510.2L1434.2 463.3L1434.2 525.8ZM1578 508.7L1578 463.3L1434.2 463.3L1520.9 510.2Z"/>
<path fill="#00ff74" stroke="#00ff74" d="M1146.8 601.4L1242.3 601.4L1275.9 562.4L1146.8 463.3ZM1290.5 561L1290.5 463.3L1146.8 463.3L1275.9 562.4ZM1391.4 523.2L1290.5 463.3L1290.5 561ZM1434.2 521.6L1434.2 463.3L1290.5 463.3L1391.4 523.2ZM1517.5 507.5L1434.2 463.3L1434.2 521.6ZM1578 506L1578 463.3L1434.2 463.3L1517.5 507.5Z"/>
<path fill="#00ff5d" stroke="#00ff5d" d="M1146.8 601.4L1226.6 601.4L1271.1 553.7L1146.8 463.3ZM1290.5 552.2L1290.5 463.3L1146.8 463.3L1271.1 553.7ZM1387.5 519.4L1290.5 463.3L1290.5 552.2ZM1434.2 517.7L1434.2 463.3L1290.5 463.3L1387.5 519.4ZM1514.1 504.9L1434.2 463.3L1434.2 517.7ZM1578 503.4L1578 463.3L1434.2 463.3L1514.1 504.9Z"/>
<path fill="#00ff46" stroke="#00ff46" d="M1146.8 601.4L1211 601.4L1266.4 546.2L1146.8 463.3ZM1290.5 544.5L1290.5 463.3L1146.8 463.3L1266.4 546.2ZM1383.6 515.7L1290.5 463.3L1290.5 544.5ZM1434.2 514L1434.2 463.3L1290.5 463.3L1383.6 515.7ZM1510.7 502.4L1434.2 463.3L1434.2 514ZM1578 500.8L1578 463.3L1434.2 463.3L1510.7 502.4Z"/>
<path fill="#00ff2e" stroke="#00ff2e" d="M1146.8 601.4L1195.3 601.4L1261.6 539.5L1146.8 463.3ZM1290.5 537.7L1290.5 463.3L1146.8 463.3L1261.6 539.5ZM1379.7 512.3L1290.5 463.3L1290.5 537.7ZM1434.2 510.6L1434.2 463.3L1290.5 463.3L1379.7 512.3ZM1507.3 500L1434.2 463.3L1434.2 510.6ZM1578 498.4L1578 463.3L1434.2 463.3L1507.3 500Z"/>
<path fill="#00ff17" stroke="#00ff17" d="M1146.8 601.4L1179.7 601.4L1256.9 533.4L1146.8 463.3ZM1290.5 531.5L1290.5 463.3L1146.8 463.3L1256.9 533.4ZM1375.8 509.1L1290.5 463.3L1290.5 531.5ZM1434.2 507.3L1434.2 463.3L1290.5 463.3L1375.8 509.1ZM1503.9 497.7L1434.2 463.3L1434.2 507.3ZM1578 496.1L1578 463.3L1434.2 463.3L1503.9 497.7Z"/>
<path fill="#00ff00" stroke="#00ff00" d="M1146.8 601.4L1164 601.4L1252.1 527.9L1146.8 463.3ZM1290.5 526L1290.5 463.3L1146.8 463.3L1252.1 527.9ZM1371.9 506L1290.5 463.3L1290.5 526ZM1434.2 504.2L1434.2 463.3L1290.5 463.3L1371.9 506ZM1500.5 495.4L1434.2 463.3L1434.2 504.2ZM1578 493.9L1578 463.3L1434.2 463.3L1500.5 495.4Z"/>
<path fill="#00ff00" stroke="#00ff00" d="M1003 601.4L1146.8 601.4L1003 463.3ZM1146.8 601.4L1146.8 463.3L1003 463.3ZM1146.8 601.4L1148.4 601.4L1247.4 522.9L1146.8 463.3ZM1290.5 520.9L1290.5 463.3L1146.8 463.3L1247.4 522.9ZM1368 503.1L1290.5 463.3L1290.5 520.9ZM1434.2 501.3L1434.2 463.3L1290.5 463.3L1368 503.1ZM1497.1 493.3L1434.2 463.3L1434.2 501.3ZM1578 491.7L1578 463.3L1434.2 463.3L1497.1 493.3Z"/>
<path fill="#17ff00" stroke="#17ff00" d="M1003 601.4L1134.9 601.4L1141 583L1003 463.3ZM1146.8 582L1146.8 463.3L1003 463.3L1141 583ZM1242.6 518.3L1146.8 463.3L1146.8 582ZM1290.5 516.2L1290.5 463.3L1146.8 463.3L1242.6 518.3ZM1364.1 500.3L1290.5 463.3L1290.5 516.2ZM1434.2 498.5L1434.2 463.3L1290.5 463.3L1364.1 500.3ZM1493.7 491.2L1434.2 463.3L1434.2 498.5ZM1578 489.6L1578 463.3L1434.2 463.3L1493.7 491.2Z"/>
<path fill="#2eff00" stroke="#2eff00" d="M1003 601.4L1121.7 601.4L1134.6 567.5L1003 463.3ZM1146.8 565.9L1146.8 463.3L1003 463.3L1134.6 567.5ZM1237.9 514L1146.8 463.3L1146.8 565.9ZM1290.5 511.9L1290.5 463.3L1146.8 463.3L1237.9 514ZM1360.2 497.7L1290.5 463.3L1290.5 511.9ZM1434.2 495.8L1434.2 463.3L1290.5 463.3L1360.2 497.7ZM1490.3 489.2L1434.2 463.3L1434.2 495.8ZM1578 487.6L1578 463.3L1434.2 463.3L1490.3 489.2Z"/>
<path fill="#46ff00" stroke="#46ff00" d="M1003 601.4L1108.4 601.4L1128.2 555.2L1003 463.3ZM1146.8 553.2L1146.8 463.3L1003 463.3L1128.2 555.2ZM1233.1 510L1146.8 463.3L1146.8 553.2ZM1290.5 507.8L1290.5 463.3L1146.8 463.3L1233.1 510ZM1356.2 495.1L1290.5 463.3L1290.5 507.8ZM1434.2 493.3L1434.2 463.3L1290.5 463.3L1356.2 495.1ZM1486.9 487.3L1434.2 463.3L1434.2 493.3ZM1578 485.7L1578 463.3L1434.2 463.3L1486.9 487.3Z"/>
<path fill="#5dff00" stroke="#5dff00" d="M1003 601.4L1095.2 601.4L1121.8 545L1003 463.3ZM1146.8 542.7L1146.8 463.3L1003 463.3L1121.8 545ZM1228.4 506.2L1146.8 463.3L1146.8 542.7ZM1290.5 504L1290.5 463.3L1146.8 463.3L1228.4 506.2ZM1352.3 492.7L1290.5 463.3L1290.5 504ZM1434.2 490.8L1434.2 463.3L1290.5 463.3L1352.3 492.7ZM1483.5 485.4L1434.2 463.3L1434.2 490.8ZM1578 483.8L1578 463.3L1434.2 463.3L1483.5 485.4Z"/>
<path fill="#74ff00" stroke="#74ff00" d="M1003 601.4L1082 601.4L1115.4 536.3L1003 463.3ZM1146.8 533.8L1146.8 463.3L1003 463.3L1115.4 536.3ZM1223.6 502.7L1146.8 463.3L1146.8 533.8ZM1290.5 500.4L1290.5 463.3L1146.8 463.3L1223.6 502.7ZM1348.4 490.3L1290.5 463.3L1290.5 500.4ZM1434.2 488.4L1434.2 463.3L1290.5 463.3L1348.4 490.3ZM1480.1 483.6L1434.2 463.3L1434.2 488.4ZM1578 482L1578 463.3L1434.2 463.3L1480.1 483.6Z"/>
<path fill="#8bff00" stroke="#8bff00" d="M1003 601.4L1068.7 601.4L1109 528.7L1003 463.3ZM1146.8 526L1146.8 463.3L1003 463.3L1109 528.7ZM1218.9 499.3L1146.8 463.3L1146.8 526ZM1290.5 497.1L1290.5 463.3L1146.8 463.3L1218.9 499.3ZM1344.5 488.1L1290.5 463.3L1290.5 497.1ZM1434.2 486.2L1434.2 463.3L1290.5 463.3L1344.5 488.1ZM1476.7 481.8L1434.2 463.3L1434.2 486.2ZM1578 480.2L1578 463.3L1434.2 463.3L1476.7 481.8Z"/>
<path fill="#a2ff00" stroke="#a2ff00" d="M1003 601.4L1055.5 601.4L1102.7 522L1003 463.3ZM1146.8 519.1L1146.8 463.3L1003 463.3L1102.7 522ZM1214.1 496.2L1146.8 463.3L1146.8 519.1ZM1290.5 493.9L1290.5 463.3L1146.8 463.3L1214.1 496.2ZM1340.6 485.9L1290.5 463.3L1290.5 493.9ZM1434.2 484L1434.2 463.3L1290.5 463.3L1340.6 485.9ZM1473.3 480.1L1434.2 463.3L1434.2 484ZM1578 478.5L1578 463.3L1434.2 463.3L1473.3 480.1Z"/>
<path fill="#b9ff00" stroke="#b9ff00" d="M1003 601.4L1042.3 601.4L1096.3 515.9L1003 463.3ZM1146.8 513L1146.8 463.3L1003 463.3L1096.3 515.9ZM1209.4 493.2L1146.8 463.3L1146.8 513ZM1290.5 490.8L1290.5 463.3L1146.8 463.3L1209.4 493.2ZM1336.7 483.8L1290.5 463.3L1290.5 490.8ZM1434.2 481.9L1434.2 463.3L1290.5 463.3L1336.7 483.8ZM1469.9 478.5L1434.2 463.3L1434.2 481.9ZM1578 476.8L1578 463.3L1434.2 463.3L1469.9 478.5Z"/>
<path fill="#d1ff00" stroke="#d1ff00" d="M1003 601.4L1029 601.4L1089.9 510.4L1003 463.3ZM1146.8 507.4L1146.8 463.3L1003 463.3L1089.9 510.4ZM1204.6 490.3L1146.8 463.3L1146.8 507.4ZM1290.5 487.9L1290.5 463.3L1146.8 463.3L1204.6 490.3ZM1332.8 481.8L1290.5 463.3L1290.5 487.9ZM1434.2 479.8L1434.2 463.3L1290.5 463.3L1332.8 481.8ZM1466.5 476.8L1434.2 463.3L1434.2 479.8ZM1578 475.2L1578 463.3L1434.2 463.3L1466.5 476.8Z"/>
<path fill="#e8ff00" stroke="#e8ff00" d="M1003 601.4L1015.8 601.4L1083.5 505.3L1003 463.3ZM1146.8 502.2L1146.8 463.3L1003 463.3L1083.5 505.3ZM1199.9 487.6L1146.8 463.3L1146.8 502.2ZM1290.5 485.2L1290.5 463.3L1146.8 463.3L1199.9 487.6ZM1328.9 479.8L1290.5 463.3L1290.5 485.2ZM1434.2 477.9L1434.2 463.3L1290.5 463.3L1328.9 479.8ZM1463.1 475.3L1434.2 463.3L1434.2 477.9ZM1578 473.6L1578 463.3L1434.2 463.3L1463.1 475.3Z"/>
<path fill="#ffff00" stroke="#ffff00" d="M1077.1 500.7L1003 463.3L1003 599.9ZM1146.8 497.5L1146.8 463.3L1003 463.3L1077.1 500.7ZM1195.1 484.9L1146.8 463.3L1146.8 497.5ZM1290.5 482.6L1290.5 463.3L1146.8 463.3L1195.1 484.9ZM1325 477.9L1290.5 463.3L1290.5 482.6ZM1434.2 475.9L1434.2 463.3L1290.5 463.3L1325 477.9ZM1459.7 473.7L1434.2 463.3L1434.2 475.9ZM1578 472L1578 463.3L1434.2 463.3L1459.7 473.7Z"/>
<path fill="#ffff00" stroke="#ffff00" d="M1070.7 496.4L1003 463.3L1003 566.1ZM1146.8 493.2L1146.8 463.3L1003 463.3L1070.7 496.4ZM1190.4 482.4L1146.8 463.3L1146.8 493.2ZM1290.5 480L1290.5 463.3L1146.8 463.3L1190.4 482.4ZM1321.1 476L1290.5 463.3L1290.5 480ZM1434.2 474.1L1434.2 463.3L1290.5 463.3L1321.1 476ZM1456.3 472.2L1434.2 463.3L1434.2 474.1ZM1578 470.5L1578 463.3L1434.2 463.3L1456.3 472.2Z"/>
<path fill="#ffe800" stroke="#ffe800" d="M1064.3 492.3L1003 463.3L1003 544.7ZM1146.8 489.1L1146.8 463.3L1003 463.3L1064.3 492.3ZM1185.6 480L1146.8 463.3L1146.8 489.1ZM1290.5 477.6L1290.5 463.3L1146.8 463.3L1185.6 480ZM1317.2 474.3L1290.5 463.3L1290.5 477.6ZM1434.2 472.3L1434.2 463.3L1290.5 463.3L1317.2 474.3ZM1452.9 470.7L1434.2 463.3L1434.2 472.3ZM1578 469.1L1578 463.3L1434.2 463.3L1452.9 470.7Z"/>
<path fill="#ffd100" stroke="#ffd100" d="M1057.9 488.5L1003 463.3L1003 528.9ZM1146.8 485.3L1146.8 463.3L1003 463.3L1057.9 488.5ZM1180.9 477.7L1146.8 463.3L1146.8 485.3ZM1290.5 475.3L1290.5 463.3L1146.8 463.3L1180.9 477.7ZM1313.3 472.5L1290.5 463.3L1290.5 475.3ZM1434.2 470.6L1434.2 463.3L1290.5 463.3L1313.3 472.5ZM1449.5 469.3L1434.2 463.3L1434.2 470.6ZM1578 467.6L1578 463.3L1434.2 463.3L1449.5 469.3Z"/>
<path fill="#ffb900" stroke="#ffb900" d="M1051.5 485L1003 463.3L1003 516.4ZM1146.8 481.7L1146.8 463.3L1003 463.3L1051.5 485ZM1176.1 475.5L1146.8 463.3L1146.8 481.7ZM1290.5 473.1L1290.5 463.3L1146.8 463.3L1176.1 475.5ZM1309.4 470.8L1290.5 463.3L1290.5 473.1ZM1434.2 468.9L1434.2 463.3L1290.5 463.3L1309.4 470.8ZM1446.1 467.9L1434.2 463.3L1434.2 468.9ZM1578 466.2L1578 463.3L1434.2 463.3L1446.1 467.9Z"/>
<path fill="#ffa200" stroke="#ffa200" d="M1045.1 481.6L1003 463.3L1003 506.1ZM1146.8 478.3L1146.8 463.3L1003 463.3L1045.1 481.6ZM1171.4 473.3L1146.8 463.3L1146.8 478.3ZM1290.5 470.9L1290.5 463.3L1146.8 463.3L1171.4 473.3ZM1305.4 469.2L1290.5 463.3L1290.5 470.9ZM1434.2 467.2L1434.2 463.3L1290.5 463.3L1305.4 469.2ZM1442.7 466.6L1434.2 463.3L1434.2 467.2ZM1578 464.9L1578 463.3L1434.2 463.3L1442.7 466.6Z"/>
<path fill="#ff8b00" stroke="#ff8b00" d="M1038.7 478.5L1003 463.3L1003 497.3ZM1146.8 475.1L1146.8 463.3L1003 463.3L1038.7 478.5ZM1166.6 471.3L1146.8 463.3L1146.8 475.1ZM1290.5 468.8L1290.5 463.3L1146.8 463.3L1166.6 471.3ZM1301.5 467.6L1290.5 463.3L1290.5 468.8ZM1434.2 465.6L1434.2 463.3L1290.5 463.3L1301.5 467.6ZM1439.3 465.2L1434.2 463.3L1434.2 465.6ZM1578 463.5L1578 463.3L1434.2 463.3L1439.3 465.2ZM1434.2 463.3L1578 463.3L1434.2 325.2ZM1578 463.3L1578 325.2L1434.2 325.2Z"/>
<path fill="#ff7400" stroke="#ff7400" d="M1032.3 475.5L1003 463.3L1003 489.6ZM1146.8 472.1L1146.8 463.3L1003 463.3L1032.3 475.5ZM1161.9 469.3L1146.8 463.3L1146.8 472.1ZM1290.5 466.8L1290.5 463.3L1146.8 463.3L1161.9 469.3ZM1297.6 466L1290.5 463.3L1290.5 466.8ZM1434.2 464L1434.2 463.3L1290.5 463.3L1297.6 466ZM1435.9 463.9L1434.2 463.3L1434.2 464ZM1487.5 463.3L1434.2 463.3L1435.9 463.9ZM1290.5 463.3L1434.2 463.3L1290.5 325.2ZM1434.2 463.3L1434.2 325.2L1290.5 325.2ZM1434.2 463.3L1487.5 463.3L1559 416.3L1434.2 325.2ZM1578 415.5L1578 325.2L1434.2 325.2L1559 416.3Z"/>
<path fill="#ff5d00" stroke="#ff5d00" d="M1025.9 472.6L1003 463.3L1003 482.8ZM1146.8 469.2L1146.8 463.3L1003 463.3L1025.9 472.6ZM1157.1 467.3L1146.8 463.3L1146.8 469.2ZM1290.5 464.9L1290.5 463.3L1146.8 463.3L1157.1 467.3ZM1293.7 464.5L1290.5 463.3L1290.5 464.9ZM1379 463.3L1290.5 463.3L1293.7 464.5ZM1146.8 463.3L1290.5 463.3L1146.8 325.2ZM1290.5 463.3L1290.5 325.2L1146.8 325.2ZM1290.5 463.3L1379 463.3L1419.7 424.5L1290.5 325.2ZM1434.2 423.7L1434.2 325.2L1290.5 325.2L1419.7 424.5ZM1536 386L1434.2 325.2L1434.2 423.7ZM1578 385L1578 325.2L1434.2 325.2L1536 386Z"/>
<path fill="#ff4600" stroke="#ff4600" d="M1019.5 469.8L1003 463.3L1003 476.7ZM1146.8 466.4L1146.8 463.3L1003 463.3L1019.5 469.8ZM1152.4 465.5L1146.8 463.3L1146.8 466.4ZM1272 463.3L1146.8 463.3L1152.4 465.5ZM1146.8 463.3L1272 463.3L1284 442.8L1146.8 325.2ZM1290.5 442.2L1290.5 325.2L1146.8 325.2L1284 442.8ZM1391.5 385.2L1290.5 325.2L1290.5 442.2ZM1434.2 383.9L1434.2 325.2L1290.5 325.2L1391.5 385.2ZM1513 366L1434.2 325.2L1434.2 383.9ZM1578 364.9L1578 325.2L1434.2 325.2L1513 366Z"/>
<path fill="#ff2e00" stroke="#ff2e00" d="M1013.1 467.2L1003 463.3L1003 471.1ZM1146.8 463.8L1146.8 463.3L1003 463.3L1013.1 467.2ZM1147.6 463.6L1146.8 463.3L1146.8 463.8ZM1166.6 463.3L1146.8 463.3L1147.6 463.6ZM1003 463.3L1146.8 463.3L1003 325.2ZM1146.8 463.3L1146.8 325.2L1003 325.2ZM1146.8 463.3L1166.6 463.3L1247 384.5L1146.8 325.2ZM1290.5 382.9L1290.5 325.2L1146.8 325.2L1247 384.5ZM1363.2 361.6L1290.5 325.2L1290.5 382.9ZM1434.2 360.2L1434.2 325.2L1290.5 325.2L1363.2 361.6ZM1490.1 351L1434.2 325.2L1434.2 360.2ZM1578 349.8L1578 325.2L1434.2 325.2L1490.1 351Z"/>
<path fill="#ff1700" stroke="#ff1700" d="M1006.7 464.7L1003 463.3L1003 466.1ZM1063 463.3L1003 463.3L1006.7 464.7ZM1003 463.3L1063 463.3L1103 384.2L1003 325.2ZM1146.8 381.8L1146.8 325.2L1003 325.2L1103 384.2ZM1210.1 355.5L1146.8 325.2L1146.8 381.8ZM1290.5 353.6L1290.5 325.2L1146.8 325.2L1210.1 355.5ZM1334.9 344.7L1290.5 325.2L1290.5 353.6ZM1434.2 343.3L1434.2 325.2L1290.5 325.2L1334.9 344.7ZM1467.1 339L1434.2 325.2L1434.2 343.3ZM1578 337.8L1578 325.2L1434.2 325.2L1467.1 339Z"/>
<path fill="#ff0000" stroke="#ff0000" d="M1049.2 345.7L1003 325.2L1003 380.8ZM1146.8 342.8L1146.8 325.2L1003 325.2L1049.2 345.7ZM1173.1 336L1146.8 325.2L1146.8 342.8ZM1290.5 334.1L1290.5 325.2L1146.8 325.2L1173.1 336ZM1306.6 331.6L1290.5 325.2L1290.5 334.1ZM1434.2 330.1L1434.2 325.2L1290.5 325.2L1306.6 331.6ZM1444.1 329L1434.2 325.2L1434.2 330.1ZM1578 327.8L1578 325.2L1434.2 325.2L1444.1 329ZM1003 325.2L1146.8 325.2L1003 187.1ZM1146.8 325.2L1146.8 187.1L1003 187.1ZM1146.8 325.2L1290.5 325.2L1146.8 187.1ZM1290.5 325.2L1290.5 187.1L1146.8 187.1ZM1290.5 325.2L1434.2 325.2L1290.5 187.1ZM1434.2 325.2L1434.2 187.1L1290.5 187.1ZM1434.2 325.2L1578 325.2L1434.2 187.1ZM1578 325.2L1578 187.1L1434.2 187.1ZM1003 187.1L1146.8 187.1L1003 49ZM1146.8 187.1L1146.8 49L1003 49ZM1146.8 187.1L1290.5 187.1L1146.8 49ZM1290.5 187.1L1290.5 49L1146.8 49ZM1290.5 187.1L1434.2 187.1L1290.5 49ZM1434.2 187.1L1434.2 49L1290.5 49ZM1434.2 187.1L1578 187.1L1434.2 49ZM1578 187.1L1578 49L1434.2 49Z"/>
</g>
<g fill="none" stroke="#363636" stroke-width="1.5" stroke-opacity="0.97">
<path d="M1569.5 552.9H1558.3"/><path stroke-width="1.2" stroke-opacity="0.9" stroke-dasharray="1.7 1.4" d="M1456.1 601.4L1558.3 553.2"/>
<path d="M1429.4 553.2H1417.8M1535.9 527H1533M1530.8 528.3H1527.9M1525.6 529.6H1522.7M1520.5 530.9H1517.6M1515.3 532.2H1512.4M1510.2 533.5H1507.3M1505 534.8H1502.2M1499.9 536.1H1497M1494.8 537.5H1491.9M1489.6 538.8H1486.7M1484.5 540.1H1481.6M1479.3 541.4H1476.4M1474.2 542.7H1471.3M1469 544H1466.2M1463.9 545.3H1461M1458.8 546.6H1455.9M1453.6 547.9H1450.7M1448.5 549.2H1445.6M1443.3 550.6H1440.4M1438.2 551.9H1435.3M1561.4 525.7H1539.7"/><path stroke-width="1.2" stroke-opacity="0.9" stroke-dasharray="3.2 1.5" d="M1343.7 601.4L1414.9 553.7"/>
<path d="M1290.5 561.1H1289.2M1282.9 562H1275.9M1434.2 521.7H1427.6M1412.4 522.8H1393.1M1514.4 508.4H1510M1506.6 509.7H1502.3M1498.9 511H1494.6M1491.2 512.3H1486.8M1483.4 513.6H1479.1M1475.7 514.9H1471.4M1468 516.2H1463.7M1460.3 517.6H1455.9M1452.5 518.9H1448.2M1444.8 520.2H1440.5M1437.1 521.4H1434.2M1578 506.1H1571.9M1548.7 507.1H1519.1"/><path stroke-width="1.2" stroke-opacity="0.9" stroke-dasharray="8.4 4" d="M1242.3 601.4L1275.9 562.4"/><path stroke-width="1.2" stroke-opacity="0.9" stroke-dasharray="2.1 1.7" d="M1290.5 561L1391.4 523.2"/>
<path d="M1285.2 521.5H1269.6M1257.4 522.7H1247.4M1368 503.3H1366.1M1363.6 504.5H1360.4M1357.9 505.8H1354.7M1352.2 507.1H1349M1346.5 508.4H1343.3M1340.8 509.7H1337.6M1335.1 511H1331.9M1329.4 512.3H1326.2M1323.6 513.6H1320.5M1317.9 515H1314.7M1312.2 516.3H1309M1306.5 517.6H1303.3M1300.8 518.9H1297.6M1295.1 520.2H1291.9M1427.5 501.9H1400.4M1379.2 502.9H1368M1494.5 494H1488.8M1484.2 495.3H1478.5M1473.9 496.6H1468.2M1463.7 497.9H1457.9M1453.4 499.2H1447.6M1443.1 500.5H1437.3M1578 491.7H1576.5M1547.1 492.7H1509.6"/><path stroke-width="1.2" stroke-opacity="0.9" stroke-dasharray="5.5 2.6" d="M1148.4 601.4L1247.4 522.9"/>
<path d="M1140.5 526.8H1130.4M1122.4 528.1H1112.2M1272.8 498H1249.7M1231.5 499.1H1218.9M1342.2 488.8H1337.8M1334.3 490.1H1329.9M1326.5 491.4H1322.1M1318.6 492.7H1314.2M1310.7 494.1H1306.3M1302.9 495.4H1298.5M1295 496.7H1290.6M1434.2 486.4H1415.7M1388.3 487.5H1353.5M1476.1 482.3H1468.9M1463.3 483.6H1456.1M1450.4 484.9H1443.2M1437.6 486H1434.2M1553.8 481H1508.4"/><path stroke-width="1.2" stroke-opacity="0.9" stroke-dasharray="2.3 1.1" d="M1068.7 601.4L1109 528.7"/><path stroke-width="1.2" stroke-opacity="0.9" stroke-dasharray="2.1 1.7" d="M1146.8 526L1218.9 499.3"/>
<path d="M1143.7 493.7H1126.1M1112.4 495H1094.9M1081.1 496.1H1070.7M1188.8 483.2H1185.9M1183.5 484.5H1180.5M1178.2 485.8H1175.2M1172.9 487.1H1169.9M1167.5 488.4H1164.5M1162.2 489.7H1159.2M1156.9 491H1153.9M1151.6 492.4H1148.6M1284.1 480.6H1253.4M1229.3 481.9H1198.6M1319.4 476.6H1313.8M1309.4 477.9H1303.7M1299.3 479.3H1293.7M1434.2 474.2H1417.5M1384.1 475.3H1341.5M1454.8 472.7H1446.2M1439.5 473.9H1434.2M1542.4 471.4H1489.1"/><path stroke-width="1.2" stroke-opacity="0.9" stroke-dasharray="41.3 19.4" d="M1003 566.1L1070.7 496.4"/>
<path d="M1146.8 472.4H1121.9M1102.4 473.8H1077.5M1058 475.1H1033.1M1160.9 469.8H1157M1153.8 471.1H1149.9M1146.8 472.1H1146.8M1289 467.2H1250.8M1220.7 468.5H1182.5M1297.6 466.1H1295.6M1422.6 464.6H1372.3M1332.8 465.8H1297.6M1487.5 463.5H1459.5M1572.8 416H1559"/><path stroke-width="1.2" stroke-opacity="0.9" stroke-dasharray="1.7 1.4" d="M1003 489.6L1032.3 475.5"/><path stroke-width="1.2" stroke-opacity="0.9" stroke-dasharray="3.1 1.5" d="M1487.5 463.3L1559 416.3"/>
</g>
<g stroke="#000" stroke-width="3" fill="none" stroke-linecap="butt"><path d="M1001.5 49H1578V601.4H1001.5"/><path stroke-width="2" d="M1002.5 47.5V602.9"/><path d="M992.5 601.4H1003M992.5 463.3H1003M992.5 325.2H1003M992.5 187.1H1003M992.5 49H1003M1003 601.4V611.9M1146.8 601.4V611.9M1290.5 601.4V611.9M1434.2 601.4V611.9M1578 601.4V611.9"/><path stroke-width="2.7" d="M997.8 504.9H1003M997.8 366.8H1003M997.8 228.7H1003M997.8 90.6H1003M1074.9 601.4V606.6M1218.6 601.4V606.6M1362.4 601.4V606.6M1506.1 601.4V606.6"/></g>
<g><rect x="1602" y="46.6" width="48" height="10.7" fill="#8c8c8c"/><rect x="1602" y="576.16" width="48" height="11.44" fill="#0000ff"/><rect x="1602" y="565.12" width="48" height="11.44" fill="#0017ff"/><rect x="1602" y="554.08" width="48" height="11.44" fill="#002eff"/><rect x="1602" y="543.04" width="48" height="11.44" fill="#0046ff"/><rect x="1602" y="532.00" width="48" height="11.44" fill="#005dff"/><rect x="1602" y="520.96" width="48" height="11.44" fill="#0074ff"/><rect x="1602" y="509.92" width="48" height="11.44" fill="#008bff"/><rect x="1602" y="498.88" width="48" height="11.44" fill="#00a2ff"/><rect x="1602" y="487.84" width="48" height="11.44" fill="#00b9ff"/><rect x="1602" y="476.80" width="48" height="11.44" fill="#00d1ff"/><rect x="1602" y="465.76" width="48" height="11.44" fill="#00e8ff"/><rect x="1602" y="454.73" width="48" height="11.44" fill="#00ffff"/><rect x="1602" y="443.69" width="48" height="11.44" fill="#00ffff"/><rect x="1602" y="432.65" width="48" height="11.44" fill="#00ffe8"/><rect x="1602" y="421.61" width="48" height="11.44" fill="#00ffd1"/><rect x="1602" y="410.57" width="48" height="11.44" fill="#00ffb9"/><rect x="1602" y="399.53" width="48" height="11.44" fill="#00ffa2"/><rect x="1602" y="388.49" width="48" height="11.44" fill="#00ff8b"/><rect x="1602" y="377.45" width="48" height="11.44" fill="#00ff74"/><rect x="1602" y="366.41" width="48" height="11.44" fill="#00ff5d"/><rect x="1602" y="355.37" width="48" height="11.44" fill="#00ff46"/><rect x="1602" y="344.33" width="48" height="11.44" fill="#00ff2e"/><rect x="1602" y="333.29" width="48" height="11.44" fill="#00ff17"/><rect x="1602" y="322.25" width="48" height="11.44" fill="#00ff00"/><rect x="1602" y="311.21" width="48" height="11.44" fill="#00ff00"/><rect x="1602" y="300.17" width="48" height="11.44" fill="#17ff00"/><rect x="1602" y="289.13" width="48" height="11.44" fill="#2eff00"/><rect x="1602" y="278.09" width="48" height="11.44" fill="#46ff00"/><rect x="1602" y="267.05" width="48" height="11.44" fill="#5dff00"/><rect x="1602" y="256.01" width="48" height="11.44" fill="#74ff00"/><rect x="1602" y="244.97" width="48" height="11.44" fill="#8bff00"/><rect x="1602" y="233.93" width="48" height="11.44" fill="#a2ff00"/><rect x="1602" y="222.89" width="48" height="11.44" fill="#b9ff00"/><rect x="1602" y="211.85" width="48" height="11.44" fill="#d1ff00"/><rect x="1602" y="200.81" width="48" height="11.44" fill="#e8ff00"/><rect x="1602" y="189.77" width="48" height="11.44" fill="#ffff00"/><rect x="1602" y="178.74" width="48" height="11.44" fill="#ffff00"/><rect x="1602" y="167.70" width="48" height="11.44" fill="#ffe800"/><rect x="1602" y="156.66" width="48" height="11.44" fill="#ffd100"/><rect x="1602" y="145.62" width="48" height="11.44" fill="#ffb900"/><rect x="1602" y="134.58" width="48" height="11.44" fill="#ffa200"/><rect x="1602" y="123.54" width="48" height="11.44" fill="#ff8b00"/><rect x="1602" y="112.50" width="48" height="11.44" fill="#ff7400"/><rect x="1602" y="101.46" width="48" height="11.44" fill="#ff5d00"/><rect x="1602" y="90.42" width="48" height="11.44" fill="#ff4600"/><rect x="1602" y="79.38" width="48" height="11.44" fill="#ff2e00"/><rect x="1602" y="68.34" width="48" height="11.44" fill="#ff1700"/><rect x="1602" y="57.30" width="48" height="11.44" fill="#ff0000"/><rect x="1602" y="587.2" width="48" height="12.5" fill="#000"/><rect x="1602" y="46.6" width="48" height="553.1" fill="none" stroke="#3c3c3c" stroke-width="1"/><path d="M1601.7 46.6V599.7" stroke="#000" stroke-width="1.7" fill="none"/><path d="M1650 57.3h10.3M1650 123.5h10.3M1650 189.8h10.3M1650 256h10.3M1650 322.3h10.3M1650 388.5h10.3M1650 454.7h10.3M1650 521h10.3M1650 587.2h10.3" stroke="#333" stroke-width="1.2" fill="none"/><text x="1667.9" y="63.4" font-size="17.6" letter-spacing="0.25">33.90</text><text x="1667.9" y="129.8" font-size="17.6" letter-spacing="0.25">32.48</text><text x="1667.9" y="196.2" font-size="17.6" letter-spacing="0.25">31.06</text><text x="1667.9" y="262.5" font-size="17.6" letter-spacing="0.25">29.64</text><text x="1667.9" y="328.9" font-size="17.6" letter-spacing="0.25">28.23</text><text x="1667.9" y="395.3" font-size="17.6" letter-spacing="0.25">26.81</text><text x="1667.9" y="461.6" font-size="17.6" letter-spacing="0.25">25.39</text><text x="1667.9" y="528" font-size="17.6" letter-spacing="0.25">23.97</text><text x="1667.9" y="594.4" font-size="17.6" letter-spacing="0.25">22.55</text></g>
<g><text x="1014.9" y="80.4" font-size="28">(b)</text><text x="1002.7" y="637.8" font-size="23" text-anchor="middle">1</text><text x="1146.5" y="637.8" font-size="23" text-anchor="middle">2</text><text x="1290.2" y="637.8" font-size="23" text-anchor="middle">3</text><text x="1434" y="637.8" font-size="23" text-anchor="middle">4</text><text x="1577.7" y="637.8" font-size="23" text-anchor="middle">5</text><text x="984.6" y="611.1" font-size="23" text-anchor="end">10<tspan dy="-10" dx="0.8" font-size="16.2">1</tspan></text><text x="984.6" y="473" font-size="23" text-anchor="end">10<tspan dy="-10" dx="0.8" font-size="16.2">2</tspan></text><text x="984.6" y="334.9" font-size="23" text-anchor="end">10<tspan dy="-10" dx="0.8" font-size="16.2">3</tspan></text><text x="984.6" y="196.8" font-size="23" text-anchor="end">10<tspan dy="-10" dx="0.8" font-size="16.2">4</tspan></text><text x="984.6" y="58.7" font-size="23" text-anchor="end">10<tspan dy="-10" dx="0.8" font-size="16.2">5</tspan></text><text x="1290.9" y="686.9" font-size="27.5" letter-spacing="0.72" text-anchor="middle">Series resistance,R<tspan dy="7.7" font-size="18.4">s</tspan><tspan dy="-7.7">(Ohm.cm</tspan><tspan dy="-11" font-size="18.4">2</tspan><tspan dy="11">)</tspan></text><text transform="translate(929.9 324.1) rotate(-90)" font-size="27.5" letter-spacing="0.76" text-anchor="middle">Shunt resistance,R<tspan dy="7.7" font-size="18.4">sh</tspan><tspan dy="-7.7">(Ohm.cm</tspan><tspan dy="-11" font-size="18.4">2</tspan><tspan dy="11">)</tspan></text><text x="1713" y="25" font-size="28.8" text-anchor="end">Jsc(mA/cm<tspan dy="-11" font-size="18.4">2</tspan><tspan dy="11">)</tspan></text></g>
</g>
<g id="panel-c">
<g stroke-width="0.7" stroke-linejoin="round">
<path fill="#0000ff" stroke="#0000ff" d="M100.8 1307.5L245.8 1307.5L100.8 1168.4ZM245.8 1307.5L245.8 1168.4L100.8 1168.4ZM245.8 1307.5L390.8 1307.5L245.8 1168.4ZM390.8 1307.5L390.8 1168.4L245.8 1168.4ZM390.8 1307.5L535.7 1307.5L390.8 1168.4ZM535.7 1307.5L535.7 1168.4L390.8 1168.4ZM535.7 1307.5L680.7 1307.5L535.7 1168.4ZM680.7 1307.5L680.7 1168.4L535.7 1168.4Z"/>
<path fill="#0017ff" stroke="#0017ff" d="M240.8 1291.3L100.8 1168.4L100.8 1291.3ZM245.8 1291L245.8 1168.4L100.8 1168.4L240.8 1291.3ZM385.7 1291L245.8 1168.4L245.8 1291ZM390.8 1290.6L390.8 1168.4L245.8 1168.4L385.7 1291ZM530.5 1290.6L390.8 1168.4L390.8 1290.6ZM535.7 1290.1L535.7 1168.4L390.8 1168.4L530.5 1290.6ZM675.3 1290.1L535.7 1168.4L535.7 1290.1ZM680.7 1289.7L680.7 1168.4L535.7 1168.4L675.3 1290.1Z"/>
<path fill="#002eff" stroke="#002eff" d="M235.9 1278.6L100.8 1168.4L100.8 1278.6ZM245.8 1278.1L245.8 1168.4L100.8 1168.4L235.9 1278.6ZM380.6 1278.1L245.8 1168.4L245.8 1278.1ZM390.8 1277.3L390.8 1168.4L245.8 1168.4L380.6 1278.1ZM525.3 1277.3L390.8 1168.4L390.8 1277.3ZM535.7 1276.5L535.7 1168.4L390.8 1168.4L525.3 1277.3ZM669.9 1276.5L535.7 1168.4L535.7 1276.5ZM680.7 1275.9L680.7 1168.4L535.7 1168.4L669.9 1276.5Z"/>
<path fill="#0046ff" stroke="#0046ff" d="M230.9 1268.1L100.8 1168.4L100.8 1268.1ZM245.8 1267.4L245.8 1168.4L100.8 1168.4L230.9 1268.1ZM375.6 1267.4L245.8 1168.4L245.8 1267.4ZM390.8 1266.5L390.8 1168.4L245.8 1168.4L375.6 1267.4ZM520.1 1266.5L390.8 1168.4L390.8 1266.5ZM535.7 1265.5L535.7 1168.4L390.8 1168.4L520.1 1266.5ZM664.5 1265.5L535.7 1168.4L535.7 1265.5ZM680.7 1264.7L680.7 1168.4L535.7 1168.4L664.5 1265.5Z"/>
<path fill="#005dff" stroke="#005dff" d="M226 1259.1L100.8 1168.4L100.8 1259.1ZM245.8 1258.4L245.8 1168.4L100.8 1168.4L226 1259.1ZM370.5 1258.4L245.8 1168.4L245.8 1258.4ZM390.8 1257.3L390.8 1168.4L245.8 1168.4L370.5 1258.4ZM514.9 1257.3L390.8 1168.4L390.8 1257.3ZM535.7 1256.2L535.7 1168.4L390.8 1168.4L514.9 1257.3ZM659.1 1256.2L535.7 1168.4L535.7 1256.2ZM680.7 1255.3L680.7 1168.4L535.7 1168.4L659.1 1256.2Z"/>
<path fill="#0074ff" stroke="#0074ff" d="M221 1251.3L100.8 1168.4L100.8 1251.3ZM245.8 1250.5L245.8 1168.4L100.8 1168.4L221 1251.3ZM365.5 1250.5L245.8 1168.4L245.8 1250.5ZM390.8 1249.4L390.8 1168.4L245.8 1168.4L365.5 1250.5ZM509.7 1249.4L390.8 1168.4L390.8 1249.4ZM535.7 1248.1L535.7 1168.4L390.8 1168.4L509.7 1249.4ZM653.7 1248.1L535.7 1168.4L535.7 1248.1ZM680.7 1247.1L680.7 1168.4L535.7 1168.4L653.7 1248.1Z"/>
<path fill="#008bff" stroke="#008bff" d="M216.1 1244.4L100.8 1168.4L100.8 1244.4ZM245.8 1243.5L245.8 1168.4L100.8 1168.4L216.1 1244.4ZM360.4 1243.5L245.8 1168.4L245.8 1243.5ZM390.8 1242.3L390.8 1168.4L245.8 1168.4L360.4 1243.5ZM504.4 1242.3L390.8 1168.4L390.8 1242.3ZM535.7 1241L535.7 1168.4L390.8 1168.4L504.4 1242.3ZM648.4 1241L535.7 1168.4L535.7 1241ZM680.7 1240L680.7 1168.4L535.7 1168.4L648.4 1241Z"/>
<path fill="#00a2ff" stroke="#00a2ff" d="M211.1 1238.2L100.8 1168.4L100.8 1238.2ZM245.8 1237.3L245.8 1168.4L100.8 1168.4L211.1 1238.2ZM355.4 1237.3L245.8 1168.4L245.8 1237.3ZM390.8 1236L390.8 1168.4L245.8 1168.4L355.4 1237.3ZM499.2 1236L390.8 1168.4L390.8 1236ZM535.7 1234.6L535.7 1168.4L390.8 1168.4L499.2 1236ZM643 1234.6L535.7 1168.4L535.7 1234.6ZM680.7 1233.5L680.7 1168.4L535.7 1168.4L643 1234.6Z"/>
<path fill="#00b9ff" stroke="#00b9ff" d="M206.2 1232.6L100.8 1168.4L100.8 1232.6ZM245.8 1231.6L245.8 1168.4L100.8 1168.4L206.2 1232.6ZM350.3 1231.6L245.8 1168.4L245.8 1231.6ZM390.8 1230.3L390.8 1168.4L245.8 1168.4L350.3 1231.6ZM494 1230.3L390.8 1168.4L390.8 1230.3ZM535.7 1228.8L535.7 1168.4L390.8 1168.4L494 1230.3ZM637.6 1228.8L535.7 1168.4L535.7 1228.8ZM680.7 1227.7L680.7 1168.4L535.7 1168.4L637.6 1228.8Z"/>
<path fill="#00d1ff" stroke="#00d1ff" d="M201.3 1227.4L100.8 1168.4L100.8 1227.4ZM245.8 1226.5L245.8 1168.4L100.8 1168.4L201.3 1227.4ZM345.2 1226.5L245.8 1168.4L245.8 1226.5ZM390.8 1225.1L390.8 1168.4L245.8 1168.4L345.2 1226.5ZM488.8 1225.1L390.8 1168.4L390.8 1225.1ZM535.7 1223.6L535.7 1168.4L390.8 1168.4L488.8 1225.1ZM632.2 1223.6L535.7 1168.4L535.7 1223.6ZM680.7 1222.4L680.7 1168.4L535.7 1168.4L632.2 1223.6Z"/>
<path fill="#00e8ff" stroke="#00e8ff" d="M196.3 1222.7L100.8 1168.4L100.8 1222.7ZM245.8 1221.7L245.8 1168.4L100.8 1168.4L196.3 1222.7ZM340.2 1221.7L245.8 1168.4L245.8 1221.7ZM390.8 1220.3L390.8 1168.4L245.8 1168.4L340.2 1221.7ZM483.6 1220.3L390.8 1168.4L390.8 1220.3ZM535.7 1218.7L535.7 1168.4L390.8 1168.4L483.6 1220.3ZM626.8 1218.7L535.7 1168.4L535.7 1218.7ZM680.7 1217.6L680.7 1168.4L535.7 1168.4L626.8 1218.7Z"/>
<path fill="#00ffff" stroke="#00ffff" d="M191.4 1218.3L100.8 1168.4L100.8 1218.3ZM245.8 1217.3L245.8 1168.4L100.8 1168.4L191.4 1218.3ZM335.1 1217.3L245.8 1168.4L245.8 1217.3ZM390.8 1215.8L390.8 1168.4L245.8 1168.4L335.1 1217.3ZM478.4 1215.8L390.8 1168.4L390.8 1215.8ZM535.7 1214.3L535.7 1168.4L390.8 1168.4L478.4 1215.8ZM621.4 1214.3L535.7 1168.4L535.7 1214.3ZM680.7 1213.1L680.7 1168.4L535.7 1168.4L621.4 1214.3Z"/>
<path fill="#00ffff" stroke="#00ffff" d="M186.4 1214.2L100.8 1168.4L100.8 1214.2ZM245.8 1213.2L245.8 1168.4L100.8 1168.4L186.4 1214.2ZM330.1 1213.2L245.8 1168.4L245.8 1213.2ZM390.8 1211.7L390.8 1168.4L245.8 1168.4L330.1 1213.2ZM473.2 1211.7L390.8 1168.4L390.8 1211.7ZM535.7 1210.1L535.7 1168.4L390.8 1168.4L473.2 1211.7ZM616 1210.1L535.7 1168.4L535.7 1210.1ZM680.7 1208.9L680.7 1168.4L535.7 1168.4L616 1210.1Z"/>
<path fill="#00ffe8" stroke="#00ffe8" d="M181.5 1210.4L100.8 1168.4L100.8 1210.4ZM245.8 1209.3L245.8 1168.4L100.8 1168.4L181.5 1210.4ZM325 1209.3L245.8 1168.4L245.8 1209.3ZM390.8 1207.8L390.8 1168.4L245.8 1168.4L325 1209.3ZM467.9 1207.8L390.8 1168.4L390.8 1207.8ZM535.7 1206.2L535.7 1168.4L390.8 1168.4L467.9 1207.8ZM610.6 1206.2L535.7 1168.4L535.7 1206.2ZM680.7 1204.9L680.7 1168.4L535.7 1168.4L610.6 1206.2Z"/>
<path fill="#00ffd1" stroke="#00ffd1" d="M176.5 1206.8L100.8 1168.4L100.8 1206.8ZM245.8 1205.7L245.8 1168.4L100.8 1168.4L176.5 1206.8ZM320 1205.7L245.8 1168.4L245.8 1205.7ZM390.8 1204.2L390.8 1168.4L245.8 1168.4L320 1205.7ZM462.7 1204.2L390.8 1168.4L390.8 1204.2ZM535.7 1202.5L535.7 1168.4L390.8 1168.4L462.7 1204.2ZM605.2 1202.5L535.7 1168.4L535.7 1202.5ZM680.7 1201.3L680.7 1168.4L535.7 1168.4L605.2 1202.5Z"/>
<path fill="#00ffb9" stroke="#00ffb9" d="M171.6 1203.4L100.8 1168.4L100.8 1203.4ZM245.8 1202.3L245.8 1168.4L100.8 1168.4L171.6 1203.4ZM314.9 1202.3L245.8 1168.4L245.8 1202.3ZM390.8 1200.7L390.8 1168.4L245.8 1168.4L314.9 1202.3ZM457.5 1200.7L390.8 1168.4L390.8 1200.7ZM535.7 1199.1L535.7 1168.4L390.8 1168.4L457.5 1200.7ZM599.8 1199.1L535.7 1168.4L535.7 1199.1ZM680.7 1197.8L680.7 1168.4L535.7 1168.4L599.8 1199.1Z"/>
<path fill="#00ffa2" stroke="#00ffa2" d="M166.6 1200.2L100.8 1168.4L100.8 1200.2ZM245.8 1199.1L245.8 1168.4L100.8 1168.4L166.6 1200.2ZM309.9 1199.1L245.8 1168.4L245.8 1199.1ZM390.8 1197.5L390.8 1168.4L245.8 1168.4L309.9 1199.1ZM452.3 1197.5L390.8 1168.4L390.8 1197.5ZM535.7 1195.8L535.7 1168.4L390.8 1168.4L452.3 1197.5ZM594.4 1195.8L535.7 1168.4L535.7 1195.8ZM680.7 1194.5L680.7 1168.4L535.7 1168.4L594.4 1195.8Z"/>
<path fill="#00ff8b" stroke="#00ff8b" d="M161.7 1197.1L100.8 1168.4L100.8 1197.1ZM245.8 1196L245.8 1168.4L100.8 1168.4L161.7 1197.1ZM304.8 1196L245.8 1168.4L245.8 1196ZM390.8 1194.4L390.8 1168.4L245.8 1168.4L304.8 1196ZM447.1 1194.4L390.8 1168.4L390.8 1194.4ZM535.7 1192.7L535.7 1168.4L390.8 1168.4L447.1 1194.4ZM589 1192.7L535.7 1168.4L535.7 1192.7ZM680.7 1191.4L680.7 1168.4L535.7 1168.4L589 1192.7Z"/>
<path fill="#00ff74" stroke="#00ff74" d="M156.7 1194.2L100.8 1168.4L100.8 1194.2ZM245.8 1193.1L245.8 1168.4L100.8 1168.4L156.7 1194.2ZM299.7 1193.1L245.8 1168.4L245.8 1193.1ZM390.8 1191.5L390.8 1168.4L245.8 1168.4L299.7 1193.1ZM441.9 1191.5L390.8 1168.4L390.8 1191.5ZM535.7 1189.8L535.7 1168.4L390.8 1168.4L441.9 1191.5ZM583.7 1189.8L535.7 1168.4L535.7 1189.8ZM680.7 1188.4L680.7 1168.4L535.7 1168.4L583.7 1189.8Z"/>
<path fill="#00ff5d" stroke="#00ff5d" d="M151.8 1191.4L100.8 1168.4L100.8 1191.4ZM245.8 1190.3L245.8 1168.4L100.8 1168.4L151.8 1191.4ZM294.7 1190.3L245.8 1168.4L245.8 1190.3ZM390.8 1188.7L390.8 1168.4L245.8 1168.4L294.7 1190.3ZM436.6 1188.7L390.8 1168.4L390.8 1188.7ZM535.7 1186.9L535.7 1168.4L390.8 1168.4L436.6 1188.7ZM578.3 1186.9L535.7 1168.4L535.7 1186.9ZM680.7 1185.6L680.7 1168.4L535.7 1168.4L578.3 1186.9Z"/>
<path fill="#00ff46" stroke="#00ff46" d="M146.8 1188.8L100.8 1168.4L100.8 1188.8ZM245.8 1187.6L245.8 1168.4L100.8 1168.4L146.8 1188.8ZM289.6 1187.6L245.8 1168.4L245.8 1187.6ZM390.8 1186L390.8 1168.4L245.8 1168.4L289.6 1187.6ZM431.4 1186L390.8 1168.4L390.8 1186ZM535.7 1184.3L535.7 1168.4L390.8 1168.4L431.4 1186ZM572.9 1184.3L535.7 1168.4L535.7 1184.3ZM680.7 1182.9L680.7 1168.4L535.7 1168.4L572.9 1184.3Z"/>
<path fill="#00ff2e" stroke="#00ff2e" d="M141.9 1186.2L100.8 1168.4L100.8 1186.2ZM245.8 1185.1L245.8 1168.4L100.8 1168.4L141.9 1186.2ZM284.6 1185.1L245.8 1168.4L245.8 1185.1ZM390.8 1183.4L390.8 1168.4L245.8 1168.4L284.6 1185.1ZM426.2 1183.4L390.8 1168.4L390.8 1183.4ZM535.7 1181.7L535.7 1168.4L390.8 1168.4L426.2 1183.4ZM567.5 1181.7L535.7 1168.4L535.7 1181.7ZM680.7 1180.3L680.7 1168.4L535.7 1168.4L567.5 1181.7Z"/>
<path fill="#00ff17" stroke="#00ff17" d="M136.9 1183.8L100.8 1168.4L100.8 1183.8ZM245.8 1182.6L245.8 1168.4L100.8 1168.4L136.9 1183.8ZM279.5 1182.6L245.8 1168.4L245.8 1182.6ZM390.8 1181L390.8 1168.4L245.8 1168.4L279.5 1182.6ZM421 1181L390.8 1168.4L390.8 1181ZM535.7 1179.2L535.7 1168.4L390.8 1168.4L421 1181ZM562.1 1179.2L535.7 1168.4L535.7 1179.2ZM680.7 1177.9L680.7 1168.4L535.7 1168.4L562.1 1179.2Z"/>
<path fill="#00ff00" stroke="#00ff00" d="M132 1181.4L100.8 1168.4L100.8 1181.4ZM245.8 1180.3L245.8 1168.4L100.8 1168.4L132 1181.4ZM274.5 1180.3L245.8 1168.4L245.8 1180.3ZM390.8 1178.6L390.8 1168.4L245.8 1168.4L274.5 1180.3ZM415.8 1178.6L390.8 1168.4L390.8 1178.6ZM535.7 1176.9L535.7 1168.4L390.8 1168.4L415.8 1178.6ZM556.7 1176.9L535.7 1168.4L535.7 1176.9ZM680.7 1175.5L680.7 1168.4L535.7 1168.4L556.7 1176.9Z"/>
<path fill="#00ff00" stroke="#00ff00" d="M127.1 1179.2L100.8 1168.4L100.8 1179.2ZM245.8 1178L245.8 1168.4L100.8 1168.4L127.1 1179.2ZM269.4 1178L245.8 1168.4L245.8 1178ZM390.8 1176.4L390.8 1168.4L245.8 1168.4L269.4 1178ZM410.6 1176.4L390.8 1168.4L390.8 1176.4ZM535.7 1174.6L535.7 1168.4L390.8 1168.4L410.6 1176.4ZM551.3 1174.6L535.7 1168.4L535.7 1174.6ZM680.7 1173.2L680.7 1168.4L535.7 1168.4L551.3 1174.6Z"/>
<path fill="#17ff00" stroke="#17ff00" d="M122.1 1177L100.8 1168.4L100.8 1177ZM245.8 1175.8L245.8 1168.4L100.8 1168.4L122.1 1177ZM264.3 1175.8L245.8 1168.4L245.8 1175.8ZM390.8 1174.2L390.8 1168.4L245.8 1168.4L264.3 1175.8ZM405.4 1174.2L390.8 1168.4L390.8 1174.2ZM535.7 1172.4L535.7 1168.4L390.8 1168.4L405.4 1174.2ZM545.9 1172.4L535.7 1168.4L535.7 1172.4ZM680.7 1171L680.7 1168.4L535.7 1168.4L545.9 1172.4Z"/>
<path fill="#2eff00" stroke="#2eff00" d="M117.2 1174.9L100.8 1168.4L100.8 1174.9ZM245.8 1173.7L245.8 1168.4L100.8 1168.4L117.2 1174.9ZM259.3 1173.7L245.8 1168.4L245.8 1173.7ZM390.8 1172.1L390.8 1168.4L245.8 1168.4L259.3 1173.7ZM400.1 1172.1L390.8 1168.4L390.8 1172.1ZM535.7 1170.3L535.7 1168.4L390.8 1168.4L400.1 1172.1ZM540.5 1170.3L535.7 1168.4L535.7 1170.3ZM680.7 1168.9L680.7 1168.4L535.7 1168.4L540.5 1170.3ZM390.8 1168.4L535.7 1168.4L390.8 1029.3ZM535.7 1168.4L535.7 1029.3L390.8 1029.3ZM535.7 1168.4L680.7 1168.4L535.7 1029.3ZM680.7 1168.4L680.7 1029.3L535.7 1029.3Z"/>
<path fill="#46ff00" stroke="#46ff00" d="M112.2 1172.9L100.8 1168.4L100.8 1172.9ZM245.8 1171.7L245.8 1168.4L100.8 1168.4L112.2 1172.9ZM254.2 1171.7L245.8 1168.4L245.8 1171.7ZM390.8 1170L390.8 1168.4L245.8 1168.4L254.2 1171.7ZM394.9 1170L390.8 1168.4L390.8 1170ZM518.4 1168.4L390.8 1168.4L394.9 1170ZM245.8 1168.4L390.8 1168.4L245.8 1029.3ZM390.8 1168.4L390.8 1029.3L245.8 1029.3ZM390.8 1168.4L518.4 1168.4L534.7 1164.6L390.8 1029.3ZM535.7 1164L535.7 1029.3L390.8 1029.3L534.7 1164.6ZM672.3 1143L535.7 1029.3L535.7 1164ZM680.7 1139.4L680.7 1029.3L535.7 1029.3L672.3 1143Z"/>
<path fill="#5dff00" stroke="#5dff00" d="M107.3 1170.9L100.8 1168.4L100.8 1170.9ZM245.8 1169.7L245.8 1168.4L100.8 1168.4L107.3 1170.9ZM249.2 1169.7L245.8 1168.4L245.8 1169.7ZM357.8 1168.4L245.8 1168.4L249.2 1169.7ZM100.8 1168.4L245.8 1168.4L100.8 1029.3ZM245.8 1168.4L245.8 1029.3L100.8 1029.3ZM245.8 1168.4L357.8 1168.4L389 1162.1L245.8 1029.3ZM390.8 1161.2L390.8 1029.3L245.8 1029.3L389 1162.1ZM524.9 1137.4L390.8 1029.3L390.8 1161.2ZM535.7 1133.6L535.7 1029.3L390.8 1029.3L524.9 1137.4ZM661.5 1121L535.7 1029.3L535.7 1133.6ZM680.7 1115.4L680.7 1029.3L535.7 1029.3L661.5 1121Z"/>
<path fill="#74ff00" stroke="#74ff00" d="M102.3 1169L100.8 1168.4L100.8 1169ZM171 1168.4L100.8 1168.4L102.3 1169ZM100.8 1168.4L171 1168.4L243.1 1159L100.8 1029.3ZM245.8 1157.8L245.8 1029.3L100.8 1029.3L243.1 1159ZM380 1137.5L245.8 1029.3L245.8 1157.8ZM390.8 1133.9L390.8 1029.3L245.8 1029.3L380 1137.5ZM515.2 1118.8L390.8 1029.3L390.8 1133.9ZM535.7 1113.5L535.7 1029.3L390.8 1029.3L515.2 1118.8ZM650.7 1105L535.7 1029.3L535.7 1113.5ZM680.7 1098.3L680.7 1029.3L535.7 1029.3L650.7 1105Z"/>
<path fill="#8bff00" stroke="#8bff00" d="M234.7 1136.9L100.8 1029.3L100.8 1149.3ZM245.8 1133.5L245.8 1029.3L100.8 1029.3L234.7 1136.9ZM371 1120.1L245.8 1029.3L245.8 1133.5ZM390.8 1115.2L390.8 1029.3L245.8 1029.3L371 1120.1ZM505.5 1104.6L390.8 1029.3L390.8 1115.2ZM535.7 1098.4L535.7 1029.3L390.8 1029.3L505.5 1104.6ZM640 1092.3L535.7 1029.3L535.7 1098.4ZM680.7 1084.9L680.7 1029.3L535.7 1029.3L640 1092.3Z"/>
<path fill="#a2ff00" stroke="#a2ff00" d="M226.4 1120.8L100.8 1029.3L100.8 1129.4ZM245.8 1116.2L245.8 1029.3L100.8 1029.3L226.4 1120.8ZM362 1106.5L245.8 1029.3L245.8 1116.2ZM390.8 1100.9L390.8 1029.3L245.8 1029.3L362 1106.5ZM495.7 1093L390.8 1029.3L390.8 1100.9ZM535.7 1086.4L535.7 1029.3L390.8 1029.3L495.7 1093ZM629.2 1081.8L535.7 1029.3L535.7 1086.4ZM680.7 1074L680.7 1029.3L535.7 1029.3L629.2 1081.8Z"/>
<path fill="#b9ff00" stroke="#b9ff00" d="M218.1 1108L100.8 1029.3L100.8 1114.5ZM245.8 1102.8L245.8 1029.3L100.8 1029.3L218.1 1108ZM353 1095.5L245.8 1029.3L245.8 1102.8ZM390.8 1089.4L390.8 1029.3L245.8 1029.3L353 1095.5ZM486 1083.4L390.8 1029.3L390.8 1089.4ZM535.7 1076.3L535.7 1029.3L390.8 1029.3L486 1083.4ZM618.4 1072.9L535.7 1029.3L535.7 1076.3ZM680.7 1064.8L680.7 1029.3L535.7 1029.3L618.4 1072.9Z"/>
<path fill="#d1ff00" stroke="#d1ff00" d="M209.8 1097.5L100.8 1029.3L100.8 1102.5ZM245.8 1091.8L245.8 1029.3L100.8 1029.3L209.8 1097.5ZM344 1086.2L245.8 1029.3L245.8 1091.8ZM390.8 1079.7L390.8 1029.3L245.8 1029.3L344 1086.2ZM476.3 1075.1L390.8 1029.3L390.8 1079.7ZM535.7 1067.7L535.7 1029.3L390.8 1029.3L476.3 1075.1ZM607.7 1065.1L535.7 1029.3L535.7 1067.7ZM680.7 1056.8L680.7 1029.3L535.7 1029.3L607.7 1065.1Z"/>
<path fill="#e8ff00" stroke="#e8ff00" d="M201.5 1088.6L100.8 1029.3L100.8 1092.5ZM245.8 1082.6L245.8 1029.3L100.8 1029.3L201.5 1088.6ZM335 1078.1L245.8 1029.3L245.8 1082.6ZM390.8 1071.3L390.8 1029.3L245.8 1029.3L335 1078.1ZM466.5 1067.7L390.8 1029.3L390.8 1071.3ZM535.7 1060.2L535.7 1029.3L390.8 1029.3L466.5 1067.7ZM596.9 1058.2L535.7 1029.3L535.7 1060.2ZM680.7 1049.7L680.7 1029.3L535.7 1029.3L596.9 1058.2Z"/>
<path fill="#ffff00" stroke="#ffff00" d="M193.1 1080.8L100.8 1029.3L100.8 1083.9ZM245.8 1074.5L245.8 1029.3L100.8 1029.3L193.1 1080.8ZM326 1071L245.8 1029.3L245.8 1074.5ZM390.8 1064L390.8 1029.3L245.8 1029.3L326 1071ZM456.8 1061.2L390.8 1029.3L390.8 1064ZM535.7 1053.5L535.7 1029.3L390.8 1029.3L456.8 1061.2ZM586.1 1052L535.7 1029.3L535.7 1053.5ZM680.7 1043.4L680.7 1029.3L535.7 1029.3L586.1 1052Z"/>
<path fill="#ffff00" stroke="#ffff00" d="M184.8 1073.9L100.8 1029.3L100.8 1076.4ZM245.8 1067.4L245.8 1029.3L100.8 1029.3L184.8 1073.9ZM317 1064.6L245.8 1029.3L245.8 1067.4ZM390.8 1057.5L390.8 1029.3L245.8 1029.3L317 1064.6ZM447 1055.3L390.8 1029.3L390.8 1057.5ZM535.7 1047.5L535.7 1029.3L390.8 1029.3L447 1055.3ZM575.4 1046.4L535.7 1029.3L535.7 1047.5ZM680.7 1037.6L680.7 1029.3L535.7 1029.3L575.4 1046.4Z"/>
<path fill="#ffe800" stroke="#ffe800" d="M176.5 1067.7L100.8 1029.3L100.8 1069.7ZM245.8 1061.1L245.8 1029.3L100.8 1029.3L176.5 1067.7ZM308 1058.9L245.8 1029.3L245.8 1061.1ZM390.8 1051.6L390.8 1029.3L245.8 1029.3L308 1058.9ZM437.3 1050L390.8 1029.3L390.8 1051.6ZM535.7 1042L535.7 1029.3L390.8 1029.3L437.3 1050ZM564.6 1041.3L535.7 1029.3L535.7 1042ZM680.7 1032.4L680.7 1029.3L535.7 1029.3L564.6 1041.3ZM535.7 1029.3L680.7 1029.3L535.7 890.3ZM680.7 1029.3L680.7 890.3L535.7 890.3Z"/>
<path fill="#ffd100" stroke="#ffd100" d="M168.2 1062.1L100.8 1029.3L100.8 1063.7ZM245.8 1055.3L245.8 1029.3L100.8 1029.3L168.2 1062.1ZM299 1053.6L245.8 1029.3L245.8 1055.3ZM390.8 1046.2L390.8 1029.3L245.8 1029.3L299 1053.6ZM427.6 1045L390.8 1029.3L390.8 1046.2ZM535.7 1037L535.7 1029.3L390.8 1029.3L427.6 1045ZM553.8 1036.6L535.7 1029.3L535.7 1037ZM654.2 1029.3L535.7 1029.3L553.8 1036.6ZM535.7 1029.3L654.2 1029.3L663.6 985.7L535.7 890.3ZM680.7 935.7L680.7 890.3L535.7 890.3L663.6 985.7ZM535.7 890.3L680.7 890.3L535.7 751.2ZM680.7 890.3L680.7 751.2L535.7 751.2Z"/>
<path fill="#ffb900" stroke="#ffb900" d="M159.9 1056.9L100.8 1029.3L100.8 1058.3ZM245.8 1050.1L245.8 1029.3L100.8 1029.3L159.9 1056.9ZM290 1048.8L245.8 1029.3L245.8 1050.1ZM390.8 1041.3L390.8 1029.3L245.8 1029.3L290 1048.8ZM417.8 1040.5L390.8 1029.3L390.8 1041.3ZM535.7 1032.3L535.7 1029.3L390.8 1029.3L417.8 1040.5ZM543.1 1032.2L535.7 1029.3L535.7 1032.3ZM583.8 1029.3L535.7 1029.3L543.1 1032.2ZM390.8 1029.3L535.7 1029.3L390.8 890.3ZM535.7 1029.3L535.7 890.3L390.8 890.3ZM535.7 1029.3L583.8 1029.3L618.2 933.6L535.7 890.3ZM651.1 890.3L535.7 890.3L618.2 933.6ZM535.7 890.3L651.1 890.3L652.6 829.3L535.7 751.2ZM657.4 751.2L535.7 751.2L652.6 829.3Z"/>
<path fill="#ffa200" stroke="#ffa200" d="M151.5 1052.2L100.8 1029.3L100.8 1053.3ZM245.8 1045.2L245.8 1029.3L100.8 1029.3L151.5 1052.2ZM281 1044.3L245.8 1029.3L245.8 1045.2ZM390.8 1036.7L390.8 1029.3L245.8 1029.3L281 1044.3ZM408.1 1036.2L390.8 1029.3L390.8 1036.7ZM513.8 1029.3L390.8 1029.3L408.1 1036.2ZM390.8 1029.3L513.8 1029.3L522.3 992.7L390.8 890.3ZM535.7 953.4L535.7 890.3L390.8 890.3L522.3 992.7ZM572.8 906.1L535.7 890.3L535.7 953.4ZM587.6 890.3L535.7 890.3L572.8 906.1ZM390.8 890.3L535.7 890.3L390.8 751.2ZM535.7 890.3L535.7 751.2L390.8 751.2ZM535.7 890.3L587.6 890.3L592.2 777.3L535.7 751.2ZM594.5 751.2L535.7 751.2L592.2 777.3Z"/>
<path fill="#ff8b00" stroke="#ff8b00" d="M143.2 1047.8L100.8 1029.3L100.8 1048.6ZM245.8 1040.8L245.8 1029.3L100.8 1029.3L143.2 1047.8ZM272 1040.1L245.8 1029.3L245.8 1040.8ZM390.8 1032.5L390.8 1029.3L245.8 1029.3L272 1040.1ZM398.4 1032.3L390.8 1029.3L390.8 1032.5ZM444.8 1029.3L390.8 1029.3L398.4 1032.3ZM245.8 1029.3L390.8 1029.3L245.8 890.3ZM390.8 1029.3L390.8 890.3L245.8 890.3ZM390.8 1029.3L444.8 1029.3L479.9 939L390.8 890.3ZM524.1 890.3L390.8 890.3L479.9 939ZM390.8 890.3L524.1 890.3L524.7 858.7L390.8 751.2ZM531.6 751.2L390.8 751.2L524.7 858.7Z"/>
<path fill="#ff7400" stroke="#ff7400" d="M134.9 1043.7L100.8 1029.3L100.8 1044.3ZM245.8 1036.6L245.8 1029.3L100.8 1029.3L134.9 1043.7ZM263.1 1036.2L245.8 1029.3L245.8 1036.6ZM376 1029.3L245.8 1029.3L263.1 1036.2ZM245.8 1029.3L376 1029.3L382 1003.1L245.8 890.3ZM390.8 974.4L390.8 890.3L245.8 890.3L382 1003.1ZM437.6 911L390.8 890.3L390.8 974.4ZM460.7 890.3L390.8 890.3L437.6 911ZM390.8 890.3L460.7 890.3L464.7 788.3L390.8 751.2ZM468.5 751.2L390.8 751.2L464.7 788.3Z"/>
<path fill="#ff5d00" stroke="#ff5d00" d="M126.6 1039.9L100.8 1029.3L100.8 1040.3ZM245.8 1032.7L245.8 1029.3L100.8 1029.3L126.6 1039.9ZM254.1 1032.5L245.8 1029.3L245.8 1032.7ZM308.2 1029.3L245.8 1029.3L254.1 1032.5ZM100.8 1029.3L245.8 1029.3L100.8 890.3ZM245.8 1029.3L245.8 890.3L100.8 890.3ZM245.8 1029.3L308.2 1029.3L341.8 945L245.8 890.3ZM390.8 894.7L390.8 890.3L245.8 890.3L341.8 945ZM395.2 892L390.8 890.3L390.8 894.7ZM397.4 890.3L390.8 890.3L395.2 892ZM245.8 890.3L390.8 890.3L245.8 751.2ZM390.8 890.3L390.8 751.2L245.8 751.2ZM390.8 890.3L397.4 890.3L404.7 756.7L390.8 751.2ZM405.4 751.2L390.8 751.2L404.7 756.7Z"/>
<path fill="#ff4600" stroke="#ff4600" d="M118.3 1036.3L100.8 1029.3L100.8 1036.6ZM240.5 1029.3L100.8 1029.3L118.3 1036.3ZM100.8 1029.3L240.5 1029.3L242.7 1018.8L100.8 890.3ZM245.8 1005.4L245.8 890.3L100.8 890.3L242.7 1018.8ZM301.5 915.9L245.8 890.3L245.8 1005.4ZM333.9 890.3L245.8 890.3L301.5 915.9ZM245.8 890.3L333.9 890.3L337.4 802L245.8 751.2ZM342.4 751.2L245.8 751.2L337.4 802Z"/>
<path fill="#ff2e00" stroke="#ff2e00" d="M109.9 1032.9L100.8 1029.3L100.8 1033ZM173.9 1029.3L100.8 1029.3L109.9 1032.9ZM100.8 1029.3L173.9 1029.3L204 952.1L100.8 890.3ZM245.8 906.6L245.8 890.3L100.8 890.3L204 952.1ZM261.3 896.4L245.8 890.3L245.8 906.6ZM270.3 890.3L245.8 890.3L261.3 896.4ZM100.8 890.3L245.8 890.3L100.8 751.2ZM245.8 890.3L245.8 751.2L100.8 751.2ZM245.8 890.3L270.3 890.3L277.8 764.6L245.8 751.2ZM279.5 751.2L245.8 751.2L277.8 764.6Z"/>
<path fill="#ff1700" stroke="#ff1700" d="M101.6 1029.7L100.8 1029.3L100.8 1029.7ZM107.4 1029.3L100.8 1029.3L101.6 1029.7ZM100.8 1029.3L107.4 1029.3L165.3 921.2L100.8 890.3ZM206.8 890.3L100.8 890.3L165.3 921.2ZM100.8 890.3L206.8 890.3L210.7 820.4L100.8 751.2ZM217.6 751.2L100.8 751.2L210.7 820.4Z"/>
<path fill="#ff0000" stroke="#ff0000" d="M126.6 900.8L100.8 890.3L100.8 919.4ZM143.2 890.3L100.8 890.3L126.6 900.8ZM100.8 890.3L143.2 890.3L153.5 775.1L100.8 751.2ZM156.8 751.2L100.8 751.2L153.5 775.1Z"/>
</g>
<g fill="none" stroke="#363636" stroke-width="1.5" stroke-opacity="0.97">
<path d="M226.3 1243.6H365.2M380.6 1242.3H514M528.5 1241H660.4M674.9 1240H680.7"/>
<path d="M100.8 1214.2H197.8M224.2 1213.2H345.4M372.9 1211.7H489.9M515.3 1210.2H631M657.4 1209.1H680.7"/>
<path d="M100.8 1194.1H177.9M214.3 1193.1H324.5M356.4 1191.5H460.2M489.9 1189.9H589.4M618.8 1188.9H670.6"/>
<path d="M174.6 1178.4H239.5M310.1 1177H377.3M442.5 1175.5H505.3M563.7 1174.1H623.1M663.9 1173.3H680.7"/>
<path d="M231.9 1137.5H224M217.8 1138.8H209.9M203.7 1140.2H195.8M189.6 1141.5H181.7M175.5 1142.8H167.6M161.4 1144.1H153.5M147.3 1145.4H139.4M133.2 1146.7H125.3M119.1 1148H111.2M105 1149.2H100.8M245.8 1133.7H244.2M242.4 1134.9H240M238.1 1136.2H235.8M370.3 1120.5H363.4M358 1121.8H351.2M345.8 1123.1H339M333.6 1124.4H326.8M321.4 1125.7H314.6M309.2 1127.1H302.4M297 1128.4H290.2M284.8 1129.7H278M272.6 1131H265.7M260.4 1132.3H253.5M248.2 1133.4H245.8M390.8 1115.4H388.9M386.6 1116.6H383.6M381.3 1117.9H378.3M376 1119.2H373M505.5 1104.9H499M492.8 1106.1H484.9M478.7 1107.4H470.7M464.5 1108.7H456.6M450.3 1110H442.4M436.2 1111.3H428.3M422 1112.6H414.1M407.9 1114H399.9M393.7 1115H390.8M535.7 1098.5H534.8M532 1099.5H528.3M525.5 1100.9H521.9M519.1 1102.2H515.4M512.6 1103.5H509M506.1 1104.5H505.5M634.1 1093H621.6M611.8 1094.3H599.3M589.5 1095.6H577.1M567.3 1096.9H554.8M545 1098.1H535.7M680.7 1085.2H677.5M674.3 1086.4H670.3M667.1 1087.8H663M659.8 1089.1H655.8M652.6 1090.4H648.5M645.3 1091.7H641.2"/>
<path d="M173.7 1074.6H149.4M130.3 1075.9H106.1M243.4 1068H236.5M231.1 1069.3H224.1M218.7 1070.7H211.8M206.4 1072H199.4M194 1073.3H187.1M306 1065.4H287.4M272.7 1066.7H254M390.8 1057.7H386.1M380.2 1058.9H372.6M366.6 1060.2H359.1M353.1 1061.5H345.5M339.6 1062.8H332M326.1 1064.1H318.5M432.5 1056.2H413.3M398.2 1057.3H390.8M529.5 1048.4H521.2M514.7 1049.7H506.4M499.9 1051H491.6M485.1 1052.3H476.8M470.3 1053.6H462M455.5 1054.9H447.3M564.5 1047.1H536.7M680.7 1038H673M666.1 1039.2H657.3M650.4 1040.5H641.6M634.7 1041.8H625.9M619 1043.1H610.2M603.3 1044.5H594.5M587.6 1045.8H578.8"/>
<path d="M134.9 1044H106.6M240.7 1037.3H229.2M220.2 1038.6H208.7M199.7 1039.9H188.3M179.3 1041.2H167.8M158.8 1042.6H147.4M138.4 1043.6H134.9M263.1 1036.3H256.1M376 1029.6H368.3M358.8 1030.8H346.7M337.2 1032.1H325.1M315.6 1033.4H303.5M294 1034.7H281.9M272.4 1035.9H263.1M376.1 1029.3V1028.7M377.1 1026.2V1023M378.4 1020.5V1017.3M379.7 1014.7V1011.5M381 1009V1005.8M382 1003.3V1003.1M382.3 1003.1V1000.9M383.6 999V996.6M384.9 994.7V992.3M386.2 990.4V988M387.6 986.1V983.7M388.9 981.8V979.4M390.2 977.5V975.1M461 890.3V876M462.2 861.1V842.1M463.5 827.1V808.1M464.6 793.2V788.3M464.9 788.3V783M466.2 777.4V770.3M467.5 764.7V757.6M468.4 752V751.2"/><path stroke-width="1.2" stroke-opacity="0.9" stroke-dasharray="4.2 2" d="M390.8 974.4L437.6 911"/><path stroke-width="1.2" stroke-opacity="0.9" stroke-dasharray="11.4 5.4" d="M437.6 911L460.7 890.3"/>
</g>
<g stroke="#000" stroke-width="3" fill="none" stroke-linecap="butt"><rect x="100.8" y="751.2" width="579.9" height="556.3"/><path d="M90.3 1307.5H100.8M90.3 1168.4H100.8M90.3 1029.3H100.8M90.3 890.3H100.8M90.3 751.2H100.8M100.8 1307.5V1318M245.8 1307.5V1318M390.8 1307.5V1318M535.7 1307.5V1318M680.7 1307.5V1318"/><path stroke-width="2.7" d="M95.6 1210.3H100.8M95.6 1071.2H100.8M95.6 932.1H100.8M95.6 793.1H100.8M173.3 1307.5V1312.7M318.3 1307.5V1312.7M463.2 1307.5V1312.7M608.2 1307.5V1312.7"/></g>
<g><rect x="706" y="750.3" width="47.5" height="11.2" fill="#8c8c8c"/><rect x="706" y="1285.16" width="47.5" height="11.54" fill="#0000ff"/><rect x="706" y="1274.02" width="47.5" height="11.54" fill="#0017ff"/><rect x="706" y="1262.88" width="47.5" height="11.54" fill="#002eff"/><rect x="706" y="1251.73" width="47.5" height="11.54" fill="#0046ff"/><rect x="706" y="1240.59" width="47.5" height="11.54" fill="#005dff"/><rect x="706" y="1229.45" width="47.5" height="11.54" fill="#0074ff"/><rect x="706" y="1218.31" width="47.5" height="11.54" fill="#008bff"/><rect x="706" y="1207.17" width="47.5" height="11.54" fill="#00a2ff"/><rect x="706" y="1196.02" width="47.5" height="11.54" fill="#00b9ff"/><rect x="706" y="1184.88" width="47.5" height="11.54" fill="#00d1ff"/><rect x="706" y="1173.74" width="47.5" height="11.54" fill="#00e8ff"/><rect x="706" y="1162.60" width="47.5" height="11.54" fill="#00ffff"/><rect x="706" y="1151.46" width="47.5" height="11.54" fill="#00ffff"/><rect x="706" y="1140.32" width="47.5" height="11.54" fill="#00ffe8"/><rect x="706" y="1129.17" width="47.5" height="11.54" fill="#00ffd1"/><rect x="706" y="1118.03" width="47.5" height="11.54" fill="#00ffb9"/><rect x="706" y="1106.89" width="47.5" height="11.54" fill="#00ffa2"/><rect x="706" y="1095.75" width="47.5" height="11.54" fill="#00ff8b"/><rect x="706" y="1084.61" width="47.5" height="11.54" fill="#00ff74"/><rect x="706" y="1073.47" width="47.5" height="11.54" fill="#00ff5d"/><rect x="706" y="1062.33" width="47.5" height="11.54" fill="#00ff46"/><rect x="706" y="1051.18" width="47.5" height="11.54" fill="#00ff2e"/><rect x="706" y="1040.04" width="47.5" height="11.54" fill="#00ff17"/><rect x="706" y="1028.90" width="47.5" height="11.54" fill="#00ff00"/><rect x="706" y="1017.76" width="47.5" height="11.54" fill="#00ff00"/><rect x="706" y="1006.62" width="47.5" height="11.54" fill="#17ff00"/><rect x="706" y="995.47" width="47.5" height="11.54" fill="#2eff00"/><rect x="706" y="984.33" width="47.5" height="11.54" fill="#46ff00"/><rect x="706" y="973.19" width="47.5" height="11.54" fill="#5dff00"/><rect x="706" y="962.05" width="47.5" height="11.54" fill="#74ff00"/><rect x="706" y="950.91" width="47.5" height="11.54" fill="#8bff00"/><rect x="706" y="939.77" width="47.5" height="11.54" fill="#a2ff00"/><rect x="706" y="928.62" width="47.5" height="11.54" fill="#b9ff00"/><rect x="706" y="917.48" width="47.5" height="11.54" fill="#d1ff00"/><rect x="706" y="906.34" width="47.5" height="11.54" fill="#e8ff00"/><rect x="706" y="895.20" width="47.5" height="11.54" fill="#ffff00"/><rect x="706" y="884.06" width="47.5" height="11.54" fill="#ffff00"/><rect x="706" y="872.92" width="47.5" height="11.54" fill="#ffe800"/><rect x="706" y="861.77" width="47.5" height="11.54" fill="#ffd100"/><rect x="706" y="850.63" width="47.5" height="11.54" fill="#ffb900"/><rect x="706" y="839.49" width="47.5" height="11.54" fill="#ffa200"/><rect x="706" y="828.35" width="47.5" height="11.54" fill="#ff8b00"/><rect x="706" y="817.21" width="47.5" height="11.54" fill="#ff7400"/><rect x="706" y="806.07" width="47.5" height="11.54" fill="#ff5d00"/><rect x="706" y="794.92" width="47.5" height="11.54" fill="#ff4600"/><rect x="706" y="783.78" width="47.5" height="11.54" fill="#ff2e00"/><rect x="706" y="772.64" width="47.5" height="11.54" fill="#ff1700"/><rect x="706" y="761.50" width="47.5" height="11.54" fill="#ff0000"/><rect x="706" y="1296.3" width="47.5" height="12.2" fill="#000"/><rect x="706" y="750.3" width="47.5" height="558.2" fill="none" stroke="#3c3c3c" stroke-width="1"/><path d="M753.5 761.5h10.3M753.5 828.4h10.3M753.5 895.2h10.3M753.5 962h10.3M753.5 1028.9h10.3M753.5 1095.8h10.3M753.5 1162.6h10.3M753.5 1229.4h10.3M753.5 1296.3h10.3" stroke="#333" stroke-width="1.2" fill="none"/><text x="771.4" y="768.5" font-size="17.6" letter-spacing="0.25">85.60</text><text x="771.4" y="835.4" font-size="17.6" letter-spacing="0.25">78.03</text><text x="771.4" y="902.3" font-size="17.6" letter-spacing="0.25">70.45</text><text x="771.4" y="969.2" font-size="17.6" letter-spacing="0.25">62.88</text><text x="771.4" y="1036.1" font-size="17.6" letter-spacing="0.25">55.30</text><text x="771.4" y="1102.9" font-size="17.6" letter-spacing="0.25">47.73</text><text x="771.4" y="1169.8" font-size="17.6" letter-spacing="0.25">40.15</text><text x="771.4" y="1236.7" font-size="17.6" letter-spacing="0.25">32.58</text><text x="771.4" y="1303.6" font-size="17.6" letter-spacing="0.25">25.00</text></g>
<g><text x="113.1" y="780.4" font-size="28">(c)</text><text x="100.5" y="1343.9" font-size="23" text-anchor="middle">1</text><text x="245.5" y="1343.9" font-size="23" text-anchor="middle">2</text><text x="390.5" y="1343.9" font-size="23" text-anchor="middle">3</text><text x="535.4" y="1343.9" font-size="23" text-anchor="middle">4</text><text x="680.4" y="1343.9" font-size="23" text-anchor="middle">5</text><text x="82.4" y="1316.1" font-size="23" text-anchor="end">10<tspan dy="-10" dx="0.8" font-size="16.2">1</tspan></text><text x="82.4" y="1177" font-size="23" text-anchor="end">10<tspan dy="-10" dx="0.8" font-size="16.2">2</tspan></text><text x="82.4" y="1037.9" font-size="23" text-anchor="end">10<tspan dy="-10" dx="0.8" font-size="16.2">3</tspan></text><text x="82.4" y="898.9" font-size="23" text-anchor="end">10<tspan dy="-10" dx="0.8" font-size="16.2">4</tspan></text><text x="82.4" y="759.8" font-size="23" text-anchor="end">10<tspan dy="-10" dx="0.8" font-size="16.2">5</tspan></text><text x="390.1" y="1394" font-size="27.5" letter-spacing="0.67" text-anchor="middle">Series resistance,R<tspan dy="7.7" font-size="18.4">s</tspan><tspan dy="-7.7">(Ohm.cm</tspan><tspan dy="-11" font-size="18.4">2</tspan><tspan dy="11">)</tspan></text><text transform="translate(27.2 1028.4) rotate(-90)" font-size="27.5" letter-spacing="0.76" text-anchor="middle">Shunt resistance,R<tspan dy="7.7" font-size="18.4">sh</tspan><tspan dy="-7.7">(Ohm.cm</tspan><tspan dy="-11" font-size="18.4">2</tspan><tspan dy="11">)</tspan></text><text x="729.7" y="730.8" font-size="28.8" text-anchor="middle">FF(%)</text></g>
</g>
<g id="panel-d">
<g stroke-width="0.7" stroke-linejoin="round">
<path fill="#0000ff" stroke="#0000ff" d="M1001 1307.5L1146 1307.5L1001 1168.4ZM1146 1307.5L1146 1168.4L1001 1168.4ZM1146 1307.5L1291 1307.5L1146 1168.4ZM1291 1307.5L1291 1168.4L1146 1168.4ZM1291 1307.5L1435.9 1307.5L1291 1168.4ZM1435.9 1307.5L1435.9 1168.4L1291 1168.4ZM1435.9 1307.5L1580.9 1307.5L1435.9 1168.4ZM1580.9 1307.5L1580.9 1168.4L1435.9 1168.4Z"/>
<path fill="#0017ff" stroke="#0017ff" d="M1001 1307.5L1058 1307.5L1145 1304L1001 1168.4ZM1146 1304L1146 1168.4L1001 1168.4L1145 1304ZM1288.6 1299.4L1146 1168.4L1146 1304ZM1291 1299.2L1291 1168.4L1146 1168.4L1288.6 1299.4ZM1432.4 1295.5L1291 1168.4L1291 1299.2ZM1435.9 1295.1L1435.9 1168.4L1291 1168.4L1432.4 1295.5ZM1576.2 1292.1L1435.9 1168.4L1435.9 1295.1ZM1580.9 1291.7L1580.9 1168.4L1435.9 1168.4L1576.2 1292.1Z"/>
<path fill="#002eff" stroke="#002eff" d="M1140.6 1290L1001 1168.4L1001 1294.4ZM1146 1289.6L1146 1168.4L1001 1168.4L1140.6 1290ZM1284.1 1286.1L1146 1168.4L1146 1289.6ZM1291 1285.5L1291 1168.4L1146 1168.4L1284.1 1286.1ZM1427.7 1282.7L1291 1168.4L1291 1285.5ZM1435.9 1282L1435.9 1168.4L1291 1168.4L1427.7 1282.7ZM1571.5 1279.6L1435.9 1168.4L1435.9 1282ZM1580.9 1279L1580.9 1168.4L1435.9 1168.4L1571.5 1279.6Z"/>
<path fill="#0046ff" stroke="#0046ff" d="M1136.1 1278.6L1001 1168.4L1001 1282.1ZM1146 1278L1146 1168.4L1001 1168.4L1136.1 1278.6ZM1279.6 1275.2L1146 1168.4L1146 1278ZM1291 1274.4L1291 1168.4L1146 1168.4L1279.6 1275.2ZM1423.1 1272.1L1291 1168.4L1291 1274.4ZM1435.9 1271.2L1435.9 1168.4L1291 1168.4L1423.1 1272.1ZM1566.7 1269.3L1435.9 1168.4L1435.9 1271.2ZM1580.9 1268.6L1580.9 1168.4L1435.9 1168.4L1566.7 1269.3Z"/>
<path fill="#005dff" stroke="#005dff" d="M1131.6 1269L1001 1168.4L1001 1271.9ZM1146 1268.3L1146 1168.4L1001 1168.4L1131.6 1269ZM1275 1266L1146 1168.4L1146 1268.3ZM1291 1265L1291 1168.4L1146 1168.4L1275 1266ZM1418.4 1263.1L1291 1168.4L1291 1265ZM1435.9 1262.1L1435.9 1168.4L1291 1168.4L1418.4 1263.1ZM1561.9 1260.5L1435.9 1168.4L1435.9 1262.1ZM1580.9 1259.6L1580.9 1168.4L1435.9 1168.4L1561.9 1260.5Z"/>
<path fill="#0074ff" stroke="#0074ff" d="M1127.2 1260.8L1001 1168.4L1001 1263.2ZM1146 1259.9L1146 1168.4L1001 1168.4L1127.2 1260.8ZM1270.5 1258L1146 1168.4L1146 1259.9ZM1291 1256.9L1291 1168.4L1146 1168.4L1270.5 1258ZM1413.8 1255.3L1291 1168.4L1291 1256.9ZM1435.9 1254.2L1435.9 1168.4L1291 1168.4L1413.8 1255.3ZM1557.2 1252.8L1435.9 1168.4L1435.9 1254.2ZM1580.9 1251.9L1580.9 1168.4L1435.9 1168.4L1557.2 1252.8Z"/>
<path fill="#008bff" stroke="#008bff" d="M1122.7 1253.5L1001 1168.4L1001 1255.6ZM1146 1252.6L1146 1168.4L1001 1168.4L1122.7 1253.5ZM1265.9 1250.9L1146 1168.4L1146 1252.6ZM1291 1249.8L1291 1168.4L1146 1168.4L1265.9 1250.9ZM1409.2 1248.4L1291 1168.4L1291 1249.8ZM1435.9 1247.2L1435.9 1168.4L1291 1168.4L1409.2 1248.4ZM1552.4 1246L1435.9 1168.4L1435.9 1247.2ZM1580.9 1245L1580.9 1168.4L1435.9 1168.4L1552.4 1246Z"/>
<path fill="#00a2ff" stroke="#00a2ff" d="M1118.2 1247L1001 1168.4L1001 1248.8ZM1146 1246L1146 1168.4L1001 1168.4L1118.2 1247ZM1261.4 1244.6L1146 1168.4L1146 1246ZM1291 1243.4L1291 1168.4L1146 1168.4L1261.4 1244.6ZM1404.5 1242.2L1291 1168.4L1291 1243.4ZM1435.9 1240.9L1435.9 1168.4L1291 1168.4L1404.5 1242.2ZM1547.7 1239.9L1435.9 1168.4L1435.9 1240.9ZM1580.9 1238.8L1580.9 1168.4L1435.9 1168.4L1547.7 1239.9Z"/>
<path fill="#00b9ff" stroke="#00b9ff" d="M1113.8 1241.2L1001 1168.4L1001 1242.7ZM1146 1240.1L1146 1168.4L1001 1168.4L1113.8 1241.2ZM1256.9 1238.9L1146 1168.4L1146 1240.1ZM1291 1237.6L1291 1168.4L1146 1168.4L1256.9 1238.9ZM1399.9 1236.5L1291 1168.4L1291 1237.6ZM1435.9 1235.2L1435.9 1168.4L1291 1168.4L1399.9 1236.5ZM1542.9 1234.3L1435.9 1168.4L1435.9 1235.2ZM1580.9 1233.2L1580.9 1168.4L1435.9 1168.4L1542.9 1234.3Z"/>
<path fill="#00d1ff" stroke="#00d1ff" d="M1109.3 1235.8L1001 1168.4L1001 1237.2ZM1146 1234.7L1146 1168.4L1001 1168.4L1109.3 1235.8ZM1252.3 1233.6L1146 1168.4L1146 1234.7ZM1291 1232.3L1291 1168.4L1146 1168.4L1252.3 1233.6ZM1395.2 1231.4L1291 1168.4L1291 1232.3ZM1435.9 1230L1435.9 1168.4L1291 1168.4L1395.2 1231.4ZM1538.1 1229.2L1435.9 1168.4L1435.9 1230ZM1580.9 1228L1580.9 1168.4L1435.9 1168.4L1538.1 1229.2Z"/>
<path fill="#00e8ff" stroke="#00e8ff" d="M1104.8 1230.9L1001 1168.4L1001 1232.1ZM1146 1229.8L1146 1168.4L1001 1168.4L1104.8 1230.9ZM1247.8 1228.8L1146 1168.4L1146 1229.8ZM1291 1227.4L1291 1168.4L1146 1168.4L1247.8 1228.8ZM1390.6 1226.6L1291 1168.4L1291 1227.4ZM1435.9 1225.2L1435.9 1168.4L1291 1168.4L1390.6 1226.6ZM1533.4 1224.5L1435.9 1168.4L1435.9 1225.2ZM1580.9 1223.3L1580.9 1168.4L1435.9 1168.4L1533.4 1224.5Z"/>
<path fill="#00ffff" stroke="#00ffff" d="M1100.4 1226.4L1001 1168.4L1001 1227.4ZM1146 1225.2L1146 1168.4L1001 1168.4L1100.4 1226.4ZM1243.2 1224.4L1146 1168.4L1146 1225.2ZM1291 1222.9L1291 1168.4L1146 1168.4L1243.2 1224.4ZM1385.9 1222.2L1291 1168.4L1291 1222.9ZM1435.9 1220.8L1435.9 1168.4L1291 1168.4L1385.9 1222.2ZM1528.6 1220.2L1435.9 1168.4L1435.9 1220.8ZM1580.9 1218.9L1580.9 1168.4L1435.9 1168.4L1528.6 1220.2Z"/>
<path fill="#00ffff" stroke="#00ffff" d="M1095.9 1222.2L1001 1168.4L1001 1223.1ZM1146 1221L1146 1168.4L1001 1168.4L1095.9 1222.2ZM1238.7 1220.2L1146 1168.4L1146 1221ZM1291 1218.8L1291 1168.4L1146 1168.4L1238.7 1220.2ZM1381.3 1218.1L1291 1168.4L1291 1218.8ZM1435.9 1216.6L1435.9 1168.4L1291 1168.4L1381.3 1218.1ZM1523.8 1216.1L1435.9 1168.4L1435.9 1216.6ZM1580.9 1214.8L1580.9 1168.4L1435.9 1168.4L1523.8 1216.1Z"/>
<path fill="#00ffe8" stroke="#00ffe8" d="M1091.4 1218.2L1001 1168.4L1001 1219.1ZM1146 1217L1146 1168.4L1001 1168.4L1091.4 1218.2ZM1234.2 1216.3L1146 1168.4L1146 1217ZM1291 1214.9L1291 1168.4L1146 1168.4L1234.2 1216.3ZM1376.7 1214.3L1291 1168.4L1291 1214.9ZM1435.9 1212.8L1435.9 1168.4L1291 1168.4L1376.7 1214.3ZM1519.1 1212.3L1435.9 1168.4L1435.9 1212.8ZM1580.9 1211L1580.9 1168.4L1435.9 1168.4L1519.1 1212.3Z"/>
<path fill="#00ffd1" stroke="#00ffd1" d="M1087 1214.5L1001 1168.4L1001 1215.3ZM1146 1213.3L1146 1168.4L1001 1168.4L1087 1214.5ZM1229.6 1212.7L1146 1168.4L1146 1213.3ZM1291 1211.2L1291 1168.4L1146 1168.4L1229.6 1212.7ZM1372 1210.7L1291 1168.4L1291 1211.2ZM1435.9 1209.1L1435.9 1168.4L1291 1168.4L1372 1210.7ZM1514.3 1208.7L1435.9 1168.4L1435.9 1209.1ZM1580.9 1207.4L1580.9 1168.4L1435.9 1168.4L1514.3 1208.7Z"/>
<path fill="#00ffb9" stroke="#00ffb9" d="M1082.5 1211L1001 1168.4L1001 1211.7ZM1146 1209.8L1146 1168.4L1001 1168.4L1082.5 1211ZM1225.1 1209.2L1146 1168.4L1146 1209.8ZM1291 1207.7L1291 1168.4L1146 1168.4L1225.1 1209.2ZM1367.4 1207.3L1291 1168.4L1291 1207.7ZM1435.9 1205.7L1435.9 1168.4L1291 1168.4L1367.4 1207.3ZM1509.6 1205.3L1435.9 1168.4L1435.9 1205.7ZM1580.9 1204L1580.9 1168.4L1435.9 1168.4L1509.6 1205.3Z"/>
<path fill="#00ffa2" stroke="#00ffa2" d="M1078 1207.7L1001 1168.4L1001 1208.3ZM1146 1206.5L1146 1168.4L1001 1168.4L1078 1207.7ZM1220.6 1206L1146 1168.4L1146 1206.5ZM1291 1204.4L1291 1168.4L1146 1168.4L1220.6 1206ZM1362.7 1204L1291 1168.4L1291 1204.4ZM1435.9 1202.5L1435.9 1168.4L1291 1168.4L1362.7 1204ZM1504.8 1202.1L1435.9 1168.4L1435.9 1202.5ZM1580.9 1200.8L1580.9 1168.4L1435.9 1168.4L1504.8 1202.1Z"/>
<path fill="#00ff8b" stroke="#00ff8b" d="M1073.6 1204.6L1001 1168.4L1001 1205.1ZM1146 1203.3L1146 1168.4L1001 1168.4L1073.6 1204.6ZM1216 1202.9L1146 1168.4L1146 1203.3ZM1291 1201.3L1291 1168.4L1146 1168.4L1216 1202.9ZM1358.1 1201L1291 1168.4L1291 1201.3ZM1435.9 1199.4L1435.9 1168.4L1291 1168.4L1358.1 1201ZM1500 1199.1L1435.9 1168.4L1435.9 1199.4ZM1580.9 1197.7L1580.9 1168.4L1435.9 1168.4L1500 1199.1Z"/>
<path fill="#00ff74" stroke="#00ff74" d="M1069.1 1201.6L1001 1168.4L1001 1202.1ZM1146 1200.3L1146 1168.4L1001 1168.4L1069.1 1201.6ZM1211.5 1200L1146 1168.4L1146 1200.3ZM1291 1198.4L1291 1168.4L1146 1168.4L1211.5 1200ZM1353.4 1198.1L1291 1168.4L1291 1198.4ZM1435.9 1196.4L1435.9 1168.4L1291 1168.4L1353.4 1198.1ZM1495.3 1196.2L1435.9 1168.4L1435.9 1196.4ZM1580.9 1194.8L1580.9 1168.4L1435.9 1168.4L1495.3 1196.2Z"/>
<path fill="#00ff5d" stroke="#00ff5d" d="M1064.6 1198.8L1001 1168.4L1001 1199.2ZM1146 1197.5L1146 1168.4L1001 1168.4L1064.6 1198.8ZM1206.9 1197.1L1146 1168.4L1146 1197.5ZM1291 1195.6L1291 1168.4L1146 1168.4L1206.9 1197.1ZM1348.8 1195.3L1291 1168.4L1291 1195.6ZM1435.9 1193.7L1435.9 1168.4L1291 1168.4L1348.8 1195.3ZM1490.5 1193.4L1435.9 1168.4L1435.9 1193.7ZM1580.9 1192.1L1580.9 1168.4L1435.9 1168.4L1490.5 1193.4Z"/>
<path fill="#00ff46" stroke="#00ff46" d="M1060.2 1196.1L1001 1168.4L1001 1196.5ZM1146 1194.8L1146 1168.4L1001 1168.4L1060.2 1196.1ZM1202.4 1194.5L1146 1168.4L1146 1194.8ZM1291 1192.9L1291 1168.4L1146 1168.4L1202.4 1194.5ZM1344.1 1192.6L1291 1168.4L1291 1192.9ZM1435.9 1191L1435.9 1168.4L1291 1168.4L1344.1 1192.6ZM1485.8 1190.8L1435.9 1168.4L1435.9 1191ZM1580.9 1189.4L1580.9 1168.4L1435.9 1168.4L1485.8 1190.8Z"/>
<path fill="#00ff2e" stroke="#00ff2e" d="M1055.7 1193.5L1001 1168.4L1001 1193.8ZM1146 1192.2L1146 1168.4L1001 1168.4L1055.7 1193.5ZM1197.9 1191.9L1146 1168.4L1146 1192.2ZM1291 1190.3L1291 1168.4L1146 1168.4L1197.9 1191.9ZM1339.5 1190.1L1291 1168.4L1291 1190.3ZM1435.9 1188.4L1435.9 1168.4L1291 1168.4L1339.5 1190.1ZM1481 1188.3L1435.9 1168.4L1435.9 1188.4ZM1580.9 1186.9L1580.9 1168.4L1435.9 1168.4L1481 1188.3Z"/>
<path fill="#00ff17" stroke="#00ff17" d="M1051.2 1191L1001 1168.4L1001 1191.3ZM1146 1189.7L1146 1168.4L1001 1168.4L1051.2 1191ZM1193.3 1189.4L1146 1168.4L1146 1189.7ZM1291 1187.8L1291 1168.4L1146 1168.4L1193.3 1189.4ZM1334.9 1187.6L1291 1168.4L1291 1187.8ZM1435.9 1186L1435.9 1168.4L1291 1168.4L1334.9 1187.6ZM1476.2 1185.8L1435.9 1168.4L1435.9 1186ZM1580.9 1184.4L1580.9 1168.4L1435.9 1168.4L1476.2 1185.8Z"/>
<path fill="#00ff00" stroke="#00ff00" d="M1046.8 1188.6L1001 1168.4L1001 1188.9ZM1146 1187.3L1146 1168.4L1001 1168.4L1046.8 1188.6ZM1188.8 1187.1L1146 1168.4L1146 1187.3ZM1291 1185.5L1291 1168.4L1146 1168.4L1188.8 1187.1ZM1330.2 1185.3L1291 1168.4L1291 1185.5ZM1435.9 1183.6L1435.9 1168.4L1291 1168.4L1330.2 1185.3ZM1471.5 1183.5L1435.9 1168.4L1435.9 1183.6ZM1580.9 1182.1L1580.9 1168.4L1435.9 1168.4L1471.5 1183.5Z"/>
<path fill="#00ff00" stroke="#00ff00" d="M1042.3 1186.3L1001 1168.4L1001 1186.6ZM1146 1185L1146 1168.4L1001 1168.4L1042.3 1186.3ZM1184.2 1184.8L1146 1168.4L1146 1185ZM1291 1183.2L1291 1168.4L1146 1168.4L1184.2 1184.8ZM1325.6 1183L1291 1168.4L1291 1183.2ZM1435.9 1181.3L1435.9 1168.4L1291 1168.4L1325.6 1183ZM1466.7 1181.2L1435.9 1168.4L1435.9 1181.3ZM1580.9 1179.8L1580.9 1168.4L1435.9 1168.4L1466.7 1181.2Z"/>
<path fill="#17ff00" stroke="#17ff00" d="M1037.9 1184.1L1001 1168.4L1001 1184.3ZM1146 1182.8L1146 1168.4L1001 1168.4L1037.9 1184.1ZM1179.7 1182.6L1146 1168.4L1146 1182.8ZM1291 1181L1291 1168.4L1146 1168.4L1179.7 1182.6ZM1320.9 1180.9L1291 1168.4L1291 1181ZM1435.9 1179.2L1435.9 1168.4L1291 1168.4L1320.9 1180.9ZM1462 1179.1L1435.9 1168.4L1435.9 1179.2ZM1580.9 1177.7L1580.9 1168.4L1435.9 1168.4L1462 1179.1Z"/>
<path fill="#2eff00" stroke="#2eff00" d="M1033.4 1182L1001 1168.4L1001 1182.1ZM1146 1180.6L1146 1168.4L1001 1168.4L1033.4 1182ZM1175.2 1180.5L1146 1168.4L1146 1180.6ZM1291 1178.9L1291 1168.4L1146 1168.4L1175.2 1180.5ZM1316.3 1178.8L1291 1168.4L1291 1178.9ZM1435.9 1177L1435.9 1168.4L1291 1168.4L1316.3 1178.8ZM1457.2 1177L1435.9 1168.4L1435.9 1177ZM1580.9 1175.6L1580.9 1168.4L1435.9 1168.4L1457.2 1177Z"/>
<path fill="#46ff00" stroke="#46ff00" d="M1028.9 1179.9L1001 1168.4L1001 1180.1ZM1146 1178.6L1146 1168.4L1001 1168.4L1028.9 1179.9ZM1170.6 1178.5L1146 1168.4L1146 1178.6ZM1291 1176.8L1291 1168.4L1146 1168.4L1170.6 1178.5ZM1311.6 1176.7L1291 1168.4L1291 1176.8ZM1435.9 1175L1435.9 1168.4L1291 1168.4L1311.6 1176.7ZM1452.4 1175L1435.9 1168.4L1435.9 1175ZM1580.9 1173.5L1580.9 1168.4L1435.9 1168.4L1452.4 1175Z"/>
<path fill="#5dff00" stroke="#5dff00" d="M1024.5 1177.9L1001 1168.4L1001 1178ZM1146 1176.6L1146 1168.4L1001 1168.4L1024.5 1177.9ZM1166.1 1176.5L1146 1168.4L1146 1176.6ZM1291 1174.8L1291 1168.4L1146 1168.4L1166.1 1176.5ZM1307 1174.8L1291 1168.4L1291 1174.8ZM1435.9 1173L1435.9 1168.4L1291 1168.4L1307 1174.8ZM1447.7 1173L1435.9 1168.4L1435.9 1173ZM1580.9 1171.6L1580.9 1168.4L1435.9 1168.4L1447.7 1173Z"/>
<path fill="#74ff00" stroke="#74ff00" d="M1020 1176L1001 1168.4L1001 1176.1ZM1146 1174.6L1146 1168.4L1001 1168.4L1020 1176ZM1161.6 1174.6L1146 1168.4L1146 1174.6ZM1291 1172.9L1291 1168.4L1146 1168.4L1161.6 1174.6ZM1302.4 1172.9L1291 1168.4L1291 1172.9ZM1435.9 1171.1L1435.9 1168.4L1291 1168.4L1302.4 1172.9ZM1442.9 1171.1L1435.9 1168.4L1435.9 1171.1ZM1580.9 1169.7L1580.9 1168.4L1435.9 1168.4L1442.9 1171.1ZM1435.9 1168.4L1580.9 1168.4L1435.9 1029.3ZM1580.9 1168.4L1580.9 1029.3L1435.9 1029.3Z"/>
<path fill="#8bff00" stroke="#8bff00" d="M1015.5 1174.1L1001 1168.4L1001 1174.2ZM1146 1172.8L1146 1168.4L1001 1168.4L1015.5 1174.1ZM1157 1172.7L1146 1168.4L1146 1172.8ZM1291 1171L1291 1168.4L1146 1168.4L1157 1172.7ZM1297.7 1171L1291 1168.4L1291 1171ZM1435.9 1169.3L1435.9 1168.4L1291 1168.4L1297.7 1171ZM1438.2 1169.3L1435.9 1168.4L1435.9 1169.3ZM1521.1 1168.4L1435.9 1168.4L1438.2 1169.3ZM1291 1168.4L1435.9 1168.4L1291 1029.3ZM1435.9 1168.4L1435.9 1029.3L1291 1029.3ZM1435.9 1168.4L1521.1 1168.4L1576.9 1155L1435.9 1029.3ZM1580.9 1153.2L1580.9 1029.3L1435.9 1029.3L1576.9 1155Z"/>
<path fill="#a2ff00" stroke="#a2ff00" d="M1011.1 1172.3L1001 1168.4L1001 1172.4ZM1146 1170.9L1146 1168.4L1001 1168.4L1011.1 1172.3ZM1152.5 1170.9L1146 1168.4L1146 1170.9ZM1291 1169.2L1291 1168.4L1146 1168.4L1152.5 1170.9ZM1293.1 1169.2L1291 1168.4L1291 1169.2ZM1357.9 1168.4L1291 1168.4L1293.1 1169.2ZM1146 1168.4L1291 1168.4L1146 1029.3ZM1291 1168.4L1291 1029.3L1146 1029.3ZM1291 1168.4L1357.9 1168.4L1429.9 1149.2L1291 1029.3ZM1435.9 1146.8L1435.9 1029.3L1291 1029.3L1429.9 1149.2ZM1564.7 1126.4L1435.9 1029.3L1435.9 1146.8ZM1580.9 1121.9L1580.9 1029.3L1435.9 1029.3L1564.7 1126.4Z"/>
<path fill="#b9ff00" stroke="#b9ff00" d="M1006.6 1170.6L1001 1168.4L1001 1170.6ZM1146 1169.2L1146 1168.4L1001 1168.4L1006.6 1170.6ZM1147.9 1169.2L1146 1168.4L1146 1169.2ZM1210.1 1168.4L1146 1168.4L1147.9 1169.2ZM1001 1168.4L1146 1168.4L1001 1029.3ZM1146 1168.4L1146 1029.3L1001 1029.3ZM1146 1168.4L1210.1 1168.4L1285.1 1149.6L1146 1029.3ZM1291 1147.4L1291 1029.3L1146 1029.3L1285.1 1149.6ZM1418.5 1124.1L1291 1029.3L1291 1147.4ZM1435.9 1119.7L1435.9 1029.3L1291 1029.3L1418.5 1124.1ZM1552.5 1107.1L1435.9 1029.3L1435.9 1119.7ZM1580.9 1101.4L1580.9 1029.3L1435.9 1029.3L1552.5 1107.1Z"/>
<path fill="#d1ff00" stroke="#d1ff00" d="M1002.1 1168.8L1001 1168.4L1001 1168.9ZM1045.5 1168.4L1001 1168.4L1002.1 1168.8ZM1001 1168.4L1045.5 1168.4L1140.1 1149.7L1001 1029.3ZM1146 1147.6L1146 1029.3L1001 1029.3L1140.1 1149.7ZM1274.2 1125.4L1146 1029.3L1146 1147.6ZM1291 1121.3L1291 1029.3L1146 1029.3L1274.2 1125.4ZM1407.1 1106.5L1291 1029.3L1291 1121.3ZM1435.9 1101.1L1435.9 1029.3L1291 1029.3L1407.1 1106.5ZM1540.4 1092.5L1435.9 1029.3L1435.9 1101.1ZM1580.9 1086.2L1580.9 1029.3L1435.9 1029.3L1540.4 1092.5Z"/>
<path fill="#e8ff00" stroke="#e8ff00" d="M1129.9 1126.6L1001 1029.3L1001 1143.7ZM1146 1122.6L1146 1029.3L1001 1029.3L1129.9 1126.6ZM1263.4 1108.2L1146 1029.3L1146 1122.6ZM1291 1103.1L1291 1029.3L1146 1029.3L1263.4 1108.2ZM1395.7 1092.8L1291 1029.3L1291 1103.1ZM1435.9 1086.8L1435.9 1029.3L1291 1029.3L1395.7 1092.8ZM1528.2 1080.7L1435.9 1029.3L1435.9 1086.8ZM1580.9 1074L1580.9 1029.3L1435.9 1029.3L1528.2 1080.7Z"/>
<path fill="#ffff00" stroke="#ffff00" d="M1119.6 1109.8L1001 1029.3L1001 1121.3ZM1146 1104.9L1146 1029.3L1001 1029.3L1119.6 1109.8ZM1252.6 1094.9L1146 1029.3L1146 1104.9ZM1291 1089.1L1291 1029.3L1146 1029.3L1252.6 1094.9ZM1384.3 1081.7L1291 1029.3L1291 1089.1ZM1435.9 1075.3L1435.9 1029.3L1291 1029.3L1384.3 1081.7ZM1516 1070.9L1435.9 1029.3L1435.9 1075.3ZM1580.9 1063.9L1580.9 1029.3L1435.9 1029.3L1516 1070.9Z"/>
<path fill="#ffff00" stroke="#ffff00" d="M1109.3 1096.8L1001 1029.3L1001 1104.9ZM1146 1091.3L1146 1029.3L1001 1029.3L1109.3 1096.8ZM1241.8 1083.9L1146 1029.3L1146 1091.3ZM1291 1077.8L1291 1029.3L1146 1029.3L1241.8 1083.9ZM1372.9 1072.3L1291 1029.3L1291 1077.8ZM1435.9 1065.7L1435.9 1029.3L1291 1029.3L1372.9 1072.3ZM1503.8 1062.4L1435.9 1029.3L1435.9 1065.7ZM1580.9 1055.2L1580.9 1029.3L1435.9 1029.3L1503.8 1062.4Z"/>
<path fill="#ffe800" stroke="#ffe800" d="M1099 1086L1001 1029.3L1001 1092.1ZM1146 1080.2L1146 1029.3L1001 1029.3L1099 1086ZM1231 1074.6L1146 1029.3L1146 1080.2ZM1291 1068.3L1291 1029.3L1146 1029.3L1231 1074.6ZM1361.6 1064.2L1291 1029.3L1291 1068.3ZM1435.9 1057.3L1435.9 1029.3L1291 1029.3L1361.6 1064.2ZM1491.7 1055L1435.9 1029.3L1435.9 1057.3ZM1580.9 1047.6L1580.9 1029.3L1435.9 1029.3L1491.7 1055Z"/>
<path fill="#ffd100" stroke="#ffd100" d="M1088.8 1076.9L1001 1029.3L1001 1081.5ZM1146 1070.8L1146 1029.3L1001 1029.3L1088.8 1076.9ZM1220.1 1066.6L1146 1029.3L1146 1070.8ZM1291 1060.1L1291 1029.3L1146 1029.3L1220.1 1066.6ZM1350.2 1057L1291 1029.3L1291 1060.1ZM1435.9 1050L1435.9 1029.3L1291 1029.3L1350.2 1057ZM1479.5 1048.4L1435.9 1029.3L1435.9 1050ZM1580.9 1040.9L1580.9 1029.3L1435.9 1029.3L1479.5 1048.4Z"/>
<path fill="#ffb900" stroke="#ffb900" d="M1078.5 1069L1001 1029.3L1001 1072.5ZM1146 1062.7L1146 1029.3L1001 1029.3L1078.5 1069ZM1209.3 1059.5L1146 1029.3L1146 1062.7ZM1291 1052.8L1291 1029.3L1146 1029.3L1209.3 1059.5ZM1338.8 1050.6L1291 1029.3L1291 1052.8ZM1435.9 1043.5L1435.9 1029.3L1291 1029.3L1338.8 1050.6ZM1467.3 1042.4L1435.9 1029.3L1435.9 1043.5ZM1580.9 1034.8L1580.9 1029.3L1435.9 1029.3L1467.3 1042.4ZM1435.9 1029.3L1580.9 1029.3L1435.9 890.3ZM1580.9 1029.3L1580.9 890.3L1435.9 890.3Z"/>
<path fill="#ffa200" stroke="#ffa200" d="M1068.2 1062L1001 1029.3L1001 1064.7ZM1146 1055.5L1146 1029.3L1001 1029.3L1068.2 1062ZM1198.5 1053.2L1146 1029.3L1146 1055.5ZM1291 1046.3L1291 1029.3L1146 1029.3L1198.5 1053.2ZM1327.4 1044.8L1291 1029.3L1291 1046.3ZM1435.9 1037.6L1435.9 1029.3L1291 1029.3L1327.4 1044.8ZM1455.1 1037L1435.9 1029.3L1435.9 1037.6ZM1580 1029.3L1435.9 1029.3L1455.1 1037ZM1435.9 1029.3L1580 1029.3L1580.4 1027.3L1435.9 890.3ZM1580.9 1023.6L1580.9 890.3L1435.9 890.3L1580.4 1027.3ZM1435.9 890.3L1580.9 890.3L1435.9 751.2ZM1580.9 890.3L1580.9 751.2L1435.9 751.2Z"/>
<path fill="#ff8b00" stroke="#ff8b00" d="M1057.9 1055.7L1001 1029.3L1001 1057.8ZM1146 1049.1L1146 1029.3L1001 1029.3L1057.9 1055.7ZM1187.7 1047.4L1146 1029.3L1146 1049.1ZM1291 1040.5L1291 1029.3L1146 1029.3L1187.7 1047.4ZM1316 1039.6L1291 1029.3L1291 1040.5ZM1435.9 1032.3L1435.9 1029.3L1291 1029.3L1316 1039.6ZM1443 1032.1L1435.9 1029.3L1435.9 1032.3ZM1488.8 1029.3L1435.9 1029.3L1443 1032.1ZM1291 1029.3L1435.9 1029.3L1291 890.3ZM1435.9 1029.3L1435.9 890.3L1291 890.3ZM1435.9 1029.3L1488.8 1029.3L1524.7 938.6L1435.9 890.3ZM1570 890.3L1435.9 890.3L1524.7 938.6ZM1435.9 890.3L1570 890.3L1570.6 860.4L1435.9 751.2ZM1577.7 751.2L1435.9 751.2L1570.6 860.4Z"/>
<path fill="#ff7400" stroke="#ff7400" d="M1047.7 1050L1001 1029.3L1001 1051.6ZM1146 1043.3L1146 1029.3L1001 1029.3L1047.7 1050ZM1176.9 1042.2L1146 1029.3L1146 1043.3ZM1291 1035.2L1291 1029.3L1146 1029.3L1176.9 1042.2ZM1304.6 1034.7L1291 1029.3L1291 1035.2ZM1398.3 1029.3L1291 1029.3L1304.6 1034.7ZM1291 1029.3L1398.3 1029.3L1413.7 976.9L1291 890.3ZM1435.9 935.4L1435.9 890.3L1291 890.3L1413.7 976.9ZM1468.9 904.1L1435.9 890.3L1435.9 935.4ZM1485.8 890.3L1435.9 890.3L1468.9 904.1ZM1291 890.3L1435.9 890.3L1291 751.2ZM1435.9 890.3L1435.9 751.2L1291 751.2ZM1435.9 890.3L1485.8 890.3L1491.3 776.7L1435.9 751.2ZM1494.2 751.2L1435.9 751.2L1491.3 776.7Z"/>
<path fill="#ff5d00" stroke="#ff5d00" d="M1037.4 1044.8L1001 1029.3L1001 1045.9ZM1146 1038.1L1146 1029.3L1001 1029.3L1037.4 1044.8ZM1166 1037.4L1146 1029.3L1146 1038.1ZM1291 1030.3L1291 1029.3L1146 1029.3L1166 1037.4ZM1293.2 1030.2L1291 1029.3L1291 1030.3ZM1308.9 1029.3L1291 1029.3L1293.2 1030.2ZM1146 1029.3L1291 1029.3L1146 890.3ZM1291 1029.3L1291 890.3L1146 890.3ZM1291 1029.3L1308.9 1029.3L1360.8 924.6L1291 890.3ZM1401.8 890.3L1291 890.3L1360.8 924.6ZM1291 890.3L1401.8 890.3L1403.8 824L1291 751.2ZM1410.7 751.2L1291 751.2L1403.8 824Z"/>
<path fill="#ff4600" stroke="#ff4600" d="M1027.1 1040L1001 1029.3L1001 1040.8ZM1146 1033.2L1146 1029.3L1001 1029.3L1027.1 1040ZM1155.2 1032.9L1146 1029.3L1146 1033.2ZM1220.9 1029.3L1146 1029.3L1155.2 1032.9ZM1001 1029.3L1146 1029.3L1001 890.3ZM1146 1029.3L1146 890.3L1001 890.3ZM1146 1029.3L1220.9 1029.3L1250.2 953.2L1146 890.3ZM1291 908.3L1291 890.3L1146 890.3L1250.2 953.2ZM1308 897L1291 890.3L1291 908.3ZM1317.9 890.3L1291 890.3L1308 897ZM1146 890.3L1291 890.3L1146 751.2ZM1291 890.3L1291 751.2L1146 751.2ZM1291 890.3L1317.9 890.3L1324.9 765.5L1291 751.2ZM1327 751.2L1291 751.2L1324.9 765.5Z"/>
<path fill="#ff2e00" stroke="#ff2e00" d="M1016.9 1035.6L1001 1029.3L1001 1036ZM1133.5 1029.3L1001 1029.3L1016.9 1035.6ZM1001 1029.3L1133.5 1029.3L1138.8 1007L1001 890.3ZM1146 984.7L1146 890.3L1001 890.3L1138.8 1007ZM1199.3 914.5L1146 890.3L1146 984.7ZM1233.9 890.3L1146 890.3L1199.3 914.5ZM1146 890.3L1233.9 890.3L1237.7 802.1L1146 751.2ZM1243.4 751.2L1146 751.2L1237.7 802.1Z"/>
<path fill="#ff1700" stroke="#ff1700" d="M1006.6 1031.5L1001 1029.3L1001 1031.6ZM1047.6 1029.3L1001 1029.3L1006.6 1031.5ZM1001 1029.3L1047.6 1029.3L1089 938L1001 890.3ZM1146 892.4L1146 890.3L1001 890.3L1089 938ZM1148.3 891.2L1146 890.3L1146 892.4ZM1149.8 890.3L1146 890.3L1148.3 891.2ZM1001 890.3L1146 890.3L1001 751.2ZM1146 890.3L1146 751.2L1001 751.2ZM1146 890.3L1149.8 890.3L1159.2 756.4L1146 751.2ZM1160 751.2L1146 751.2L1159.2 756.4Z"/>
<path fill="#ff0000" stroke="#ff0000" d="M1039.3 906.7L1001 890.3L1001 940.5ZM1065.7 890.3L1001 890.3L1039.3 906.7ZM1001 890.3L1065.7 890.3L1073.9 787.6L1001 751.2ZM1078.8 751.2L1001 751.2L1073.9 787.6Z"/>
</g>
<g fill="none" stroke="#363636" stroke-width="1.5" stroke-opacity="0.97">
<path d="M1001 1255.5H1014.9M1050.1 1254.3H1095.2M1126.1 1253.1H1140.5M1171.3 1251.8H1229.8M1268.3 1250.4H1286.2M1316.9 1249.1H1382.9M1415.9 1247.7H1433.5M1480.9 1246.4H1551.2M1566.5 1245.2H1580.9"/>
<path d="M1041.3 1222.3H1099.7M1123.9 1221.1H1165.8M1238.5 1219.9H1269.3M1291.7 1218.3H1387.4M1410.4 1216.8H1446.7M1524.8 1215.7H1558.9"/>
<path d="M1001 1202H1023.8M1082 1201.1H1123.9M1168 1199.9H1238.5M1269.3 1198.3H1356.5M1389.5 1196.9H1434.6M1506.1 1195.7H1549"/>
<path d="M1001 1186.3H1068.8M1105.2 1185.1H1183.4M1223.1 1183.8H1276M1347.6 1182.3H1401.6M1452.2 1181H1518.1M1558.9 1180H1580.9"/>
<path d="M1001 1174.1H1028.1M1074.4 1173.2H1139.3M1197.7 1171.8H1264.9M1318.1 1170.3H1387.4M1435.6 1169.1H1514.9"/><path d="M1521.1 1168.4H1516.4M1576.8 1155.4H1573.7M1571.3 1156.7H1568.3M1565.9 1158H1562.8M1560.4 1159.3H1557.4M1555 1160.6H1551.9M1549.5 1161.9H1546.5M1544.1 1163.3H1541M1538.6 1164.6H1535.6M1533.2 1165.9H1530.2M1527.8 1167.2H1524.7M1522.3 1168.3H1521.1"/><path stroke-width="1.2" stroke-opacity="0.9" stroke-dasharray="1.7 1.4" d="M1576.9 1155L1580.9 1153.2"/>
<path d="M1109.3 1097H1103.4M1095.8 1098.1H1086.1M1078.4 1099.5H1068.7M1061.1 1100.8H1051.4M1043.8 1102.1H1034M1026.4 1103.4H1016.7M1009.1 1104.6H1001M1146 1091.6H1141.6M1137.7 1092.9H1132.8M1128.9 1094.2H1123.9M1120.1 1095.5H1115.1M1111.3 1096.6H1109.3M1241.8 1084H1239.2M1231.8 1085H1222.3M1214.8 1086.4H1205.3M1197.9 1087.7H1188.4M1180.9 1089H1171.4M1164 1090.3H1154.5M1147 1091.3H1146M1288.4 1078.5H1282.5M1277.8 1079.8H1271.9M1267.3 1081.1H1261.3M1256.7 1082.4H1250.8M1246.1 1083.6H1241.8M1364.4 1073.3H1353.4M1344.8 1074.6H1333.9M1325.3 1075.9H1314.4M1305.8 1077.2H1294.8M1435.9 1065.7H1435.1M1429.6 1066.7H1422.6M1417.2 1068H1410.2M1404.7 1069.3H1397.8M1392.3 1070.6H1385.4M1379.9 1071.9H1372.9M1503.8 1062.8H1488.8M1476.7 1064.1H1461.4M1449.3 1065.4H1435.9M1580.9 1055.2H1579.8M1573.7 1056.2H1565.9M1559.8 1057.5H1551.9M1545.8 1058.8H1538M1531.9 1060.2H1524.1M1517.9 1061.5H1510.1M1504 1062.4H1503.8"/>
<path d="M1037.9 1050.7H1015.7M1139.5 1044.2H1128.7M1120.2 1045.5H1109.4M1100.9 1046.8H1090.1M1081.6 1048.1H1070.7M1062.2 1049.4H1051.4M1169.6 1042.8H1149.7M1291 1035.3H1288.2M1278.8 1036.3H1266.9M1257.6 1037.6H1245.7M1236.3 1038.9H1224.4M1215 1040.2H1203.1M1193.8 1041.5H1181.9M1304.6 1034.9H1291M1397.8 1029.7H1385M1374.9 1031.1H1362.1M1352 1032.4H1339.2M1329.1 1033.7H1316.3M1306.2 1034.7H1304.6M1399.2 1027.6V1025.1M1400.5 1023.1V1020.6M1401.8 1018.7V1016.2M1403.1 1014.2V1011.7M1404.4 1009.7V1007.3M1405.7 1005.3V1002.8M1407 1000.8V998.3M1408.3 996.4V993.9M1409.6 991.9V989.4M1411 987.4V984.9M1412.3 983V980.5M1413.4 978.5V976.9M1485.9 890.3V886.6M1486.9 874.7V859.6M1488.2 847.7V832.6M1489.6 820.7V805.6M1490.9 793.7V778.6M1492.2 772.4V766M1493.5 761V754.6"/><path stroke-width="1.2" stroke-opacity="0.9" stroke-dasharray="2.2 1" d="M1413.7 976.9L1435.9 935.4"/><path stroke-width="1.2" stroke-opacity="0.9" stroke-dasharray="23 10.8" d="M1435.9 935.4L1468.9 904.1"/><path stroke-width="1.2" stroke-opacity="0.9" stroke-dasharray="6.5 3" d="M1468.9 904.1L1485.8 890.3"/>
</g>
<g stroke="#000" stroke-width="3" fill="none" stroke-linecap="butt"><rect x="1001" y="751.2" width="579.9" height="556.3"/><path d="M990.5 1307.5H1001M990.5 1168.4H1001M990.5 1029.3H1001M990.5 890.3H1001M990.5 751.2H1001M1001 1307.5V1318M1146 1307.5V1318M1291 1307.5V1318M1435.9 1307.5V1318M1580.9 1307.5V1318"/><path stroke-width="2.7" d="M995.8 1210.3H1001M995.8 1071.2H1001M995.8 932.1H1001M995.8 793.1H1001M1073.5 1307.5V1312.7M1218.5 1307.5V1312.7M1363.4 1307.5V1312.7M1508.4 1307.5V1312.7"/></g>
<g><rect x="1603.6" y="750.3" width="47.8" height="10.7" fill="#8c8c8c"/><rect x="1603.6" y="1285.05" width="47.8" height="11.55" fill="#0000ff"/><rect x="1603.6" y="1273.90" width="47.8" height="11.55" fill="#0017ff"/><rect x="1603.6" y="1262.75" width="47.8" height="11.55" fill="#002eff"/><rect x="1603.6" y="1251.60" width="47.8" height="11.55" fill="#0046ff"/><rect x="1603.6" y="1240.45" width="47.8" height="11.55" fill="#005dff"/><rect x="1603.6" y="1229.30" width="47.8" height="11.55" fill="#0074ff"/><rect x="1603.6" y="1218.15" width="47.8" height="11.55" fill="#008bff"/><rect x="1603.6" y="1207.00" width="47.8" height="11.55" fill="#00a2ff"/><rect x="1603.6" y="1195.85" width="47.8" height="11.55" fill="#00b9ff"/><rect x="1603.6" y="1184.70" width="47.8" height="11.55" fill="#00d1ff"/><rect x="1603.6" y="1173.55" width="47.8" height="11.55" fill="#00e8ff"/><rect x="1603.6" y="1162.40" width="47.8" height="11.55" fill="#00ffff"/><rect x="1603.6" y="1151.25" width="47.8" height="11.55" fill="#00ffff"/><rect x="1603.6" y="1140.10" width="47.8" height="11.55" fill="#00ffe8"/><rect x="1603.6" y="1128.95" width="47.8" height="11.55" fill="#00ffd1"/><rect x="1603.6" y="1117.80" width="47.8" height="11.55" fill="#00ffb9"/><rect x="1603.6" y="1106.65" width="47.8" height="11.55" fill="#00ffa2"/><rect x="1603.6" y="1095.50" width="47.8" height="11.55" fill="#00ff8b"/><rect x="1603.6" y="1084.35" width="47.8" height="11.55" fill="#00ff74"/><rect x="1603.6" y="1073.20" width="47.8" height="11.55" fill="#00ff5d"/><rect x="1603.6" y="1062.05" width="47.8" height="11.55" fill="#00ff46"/><rect x="1603.6" y="1050.90" width="47.8" height="11.55" fill="#00ff2e"/><rect x="1603.6" y="1039.75" width="47.8" height="11.55" fill="#00ff17"/><rect x="1603.6" y="1028.60" width="47.8" height="11.55" fill="#00ff00"/><rect x="1603.6" y="1017.45" width="47.8" height="11.55" fill="#00ff00"/><rect x="1603.6" y="1006.30" width="47.8" height="11.55" fill="#17ff00"/><rect x="1603.6" y="995.15" width="47.8" height="11.55" fill="#2eff00"/><rect x="1603.6" y="984.00" width="47.8" height="11.55" fill="#46ff00"/><rect x="1603.6" y="972.85" width="47.8" height="11.55" fill="#5dff00"/><rect x="1603.6" y="961.70" width="47.8" height="11.55" fill="#74ff00"/><rect x="1603.6" y="950.55" width="47.8" height="11.55" fill="#8bff00"/><rect x="1603.6" y="939.40" width="47.8" height="11.55" fill="#a2ff00"/><rect x="1603.6" y="928.25" width="47.8" height="11.55" fill="#b9ff00"/><rect x="1603.6" y="917.10" width="47.8" height="11.55" fill="#d1ff00"/><rect x="1603.6" y="905.95" width="47.8" height="11.55" fill="#e8ff00"/><rect x="1603.6" y="894.80" width="47.8" height="11.55" fill="#ffff00"/><rect x="1603.6" y="883.65" width="47.8" height="11.55" fill="#ffff00"/><rect x="1603.6" y="872.50" width="47.8" height="11.55" fill="#ffe800"/><rect x="1603.6" y="861.35" width="47.8" height="11.55" fill="#ffd100"/><rect x="1603.6" y="850.20" width="47.8" height="11.55" fill="#ffb900"/><rect x="1603.6" y="839.05" width="47.8" height="11.55" fill="#ffa200"/><rect x="1603.6" y="827.90" width="47.8" height="11.55" fill="#ff8b00"/><rect x="1603.6" y="816.75" width="47.8" height="11.55" fill="#ff7400"/><rect x="1603.6" y="805.60" width="47.8" height="11.55" fill="#ff5d00"/><rect x="1603.6" y="794.45" width="47.8" height="11.55" fill="#ff4600"/><rect x="1603.6" y="783.30" width="47.8" height="11.55" fill="#ff2e00"/><rect x="1603.6" y="772.15" width="47.8" height="11.55" fill="#ff1700"/><rect x="1603.6" y="761.00" width="47.8" height="11.55" fill="#ff0000"/><rect x="1603.6" y="1296.2" width="47.8" height="12.3" fill="#000"/><rect x="1603.6" y="750.3" width="47.8" height="558.2" fill="none" stroke="#3c3c3c" stroke-width="1"/><path d="M1651.4 761h10.3M1651.4 827.9h10.3M1651.4 894.8h10.3M1651.4 961.7h10.3M1651.4 1028.6h10.3M1651.4 1095.5h10.3M1651.4 1162.4h10.3M1651.4 1229.3h10.3M1651.4 1296.2h10.3" stroke="#333" stroke-width="1.2" fill="none"/><text x="1669.3" y="768.1" font-size="17.6" letter-spacing="0.25">31.60</text><text x="1669.3" y="835" font-size="17.6" letter-spacing="0.25">27.89</text><text x="1669.3" y="901.8" font-size="17.6" letter-spacing="0.25">24.18</text><text x="1669.3" y="968.7" font-size="17.6" letter-spacing="0.25">20.46</text><text x="1669.3" y="1035.6" font-size="17.6" letter-spacing="0.25">16.75</text><text x="1669.3" y="1102.4" font-size="17.6" letter-spacing="0.25">13.04</text><text x="1669.3" y="1169.3" font-size="17.6" letter-spacing="0.25">9.325</text><text x="1669.3" y="1236.1" font-size="17.6" letter-spacing="0.25">5.613</text><text x="1669.3" y="1303" font-size="17.6" letter-spacing="0.25">1.900</text></g>
<g><text x="1018.9" y="781.6" font-size="28">(d)</text><text x="1000.7" y="1343.9" font-size="23" text-anchor="middle">1</text><text x="1145.7" y="1343.9" font-size="23" text-anchor="middle">2</text><text x="1290.7" y="1343.9" font-size="23" text-anchor="middle">3</text><text x="1435.6" y="1343.9" font-size="23" text-anchor="middle">4</text><text x="1580.6" y="1343.9" font-size="23" text-anchor="middle">5</text><text x="982.6" y="1316.1" font-size="23" text-anchor="end">10<tspan dy="-10" dx="0.8" font-size="16.2">1</tspan></text><text x="982.6" y="1177" font-size="23" text-anchor="end">10<tspan dy="-10" dx="0.8" font-size="16.2">2</tspan></text><text x="982.6" y="1037.9" font-size="23" text-anchor="end">10<tspan dy="-10" dx="0.8" font-size="16.2">3</tspan></text><text x="982.6" y="898.9" font-size="23" text-anchor="end">10<tspan dy="-10" dx="0.8" font-size="16.2">4</tspan></text><text x="982.6" y="759.8" font-size="23" text-anchor="end">10<tspan dy="-10" dx="0.8" font-size="16.2">5</tspan></text><text x="1292.5" y="1394.1" font-size="27.5" letter-spacing="0.8" text-anchor="middle">Series resistance,R<tspan dy="7.7" font-size="18.4">s</tspan><tspan dy="-7.7">(Ohm.cm</tspan><tspan dy="-11" font-size="18.4">2</tspan><tspan dy="11">)</tspan></text><text transform="translate(927.7 1028.4) rotate(-90)" font-size="27.5" letter-spacing="0.76" text-anchor="middle">Shunt resistance,R<tspan dy="7.7" font-size="18.4">sh</tspan><tspan dy="-7.7">(Ohm.cm</tspan><tspan dy="-11" font-size="18.4">2</tspan><tspan dy="11">)</tspan></text><text x="1628.5" y="730.8" font-size="28.8" text-anchor="middle">PCE(%)</text></g>
</g>
</svg>
</body>
</html>
